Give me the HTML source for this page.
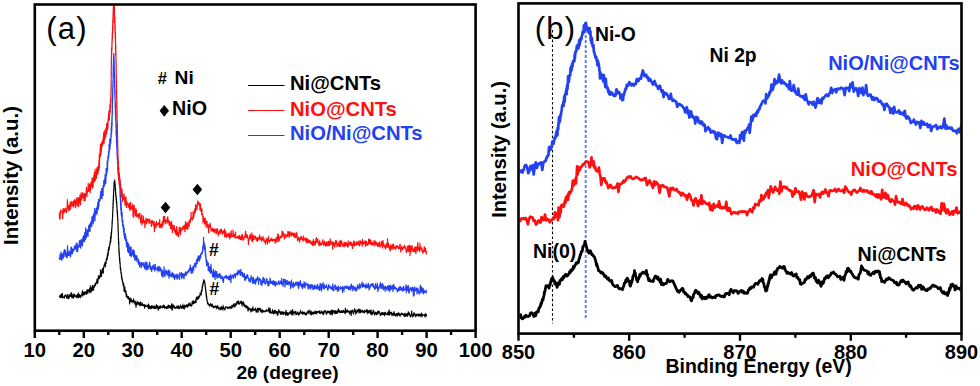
<!DOCTYPE html><html><head><meta charset="utf-8"><style>html,body{margin:0;padding:0;background:#fff;width:980px;height:386px;overflow:hidden}</style></head><body><svg width="980" height="386" viewBox="0 0 980 386" style="display:block" font-family="Liberation Sans, sans-serif"><path d="M552.5,30V323.5" stroke="#000" stroke-width="1.1" stroke-dasharray="2.6,2.2"/><path d="M585.7,25V318.6" stroke="#5b78f2" stroke-width="1.9" stroke-dasharray="3,2"/><defs><clipPath id="ca"><rect x="36" y="5" width="438" height="324"/></clipPath><clipPath id="cb"><rect x="519.5" y="4.5" width="441" height="328"/></clipPath></defs><g clip-path="url(#ca)"><path d="M59.3,296.0 59.7,297.3 60.1,294.9 60.5,296.1 60.8,298.2 61.1,296.8 61.4,293.7 61.7,297.9 62.1,293.6 62.4,293.6 62.7,297.0 63.0,296.4 63.3,297.0 63.7,297.2 64.0,297.4 64.3,298.5 64.7,295.9 65.0,296.3 65.4,295.8 65.7,294.9 66.1,295.2 66.4,297.0 66.7,296.6 67.0,298.7 67.3,296.4 67.6,295.2 67.9,294.1 68.2,297.9 68.5,299.0 68.8,297.2 69.1,297.6 69.5,295.5 69.8,295.0 70.1,295.7 70.4,294.1 70.7,297.0 71.0,293.4 71.3,292.3 71.7,296.5 72.0,298.1 72.3,295.3 72.7,296.5 73.0,293.5 73.3,298.7 73.7,295.3 74.0,297.2 74.4,293.9 74.7,295.5 75.1,295.4 75.4,297.1 75.7,296.1 76.1,295.9 76.4,295.9 76.7,297.0 77.1,295.6 77.5,296.7 77.9,294.3 78.3,293.5 78.6,298.1 79.0,294.9 79.3,294.0 79.7,296.6 80.0,297.1 80.4,295.0 80.8,296.8 81.1,296.3 81.5,294.4 81.8,294.3 82.2,291.8 82.5,291.3 82.7,295.8 83.0,295.5 83.3,293.7 83.6,294.8 83.9,291.3 84.2,294.1 84.5,295.1 84.8,293.0 85.1,293.4 85.4,291.8 85.7,294.2 86.0,291.2 86.3,293.1 86.6,294.6 86.9,290.2 87.2,290.4 87.5,292.2 87.8,293.6 88.1,289.1 88.4,291.7 88.7,290.3 89.0,291.4 89.3,292.0 89.6,288.4 89.9,291.3 90.1,290.8 90.4,285.4 90.7,292.8 91.0,291.9 91.3,290.8 91.5,289.3 91.8,287.2 92.1,287.3 92.3,291.2 92.6,285.0 92.8,290.4 93.0,288.5 93.2,288.3 93.4,289.3 93.6,289.6 93.8,285.6 94.0,286.3 94.2,288.0 94.3,285.4 94.5,286.2 94.7,286.8 94.9,284.2 95.1,284.3 95.3,286.0 95.4,283.6 95.6,285.6 95.8,282.9 96.0,283.8 96.1,282.9 96.3,283.1 96.5,281.7 96.7,282.8 96.8,282.4 97.0,278.9 97.2,281.7 97.3,281.3 97.5,281.2 97.7,283.9 97.8,280.8 98.0,282.1 98.1,279.2 98.3,276.3 98.4,278.9 98.5,275.4 98.7,278.0 98.8,279.1 98.9,277.2 99.1,276.5 99.2,278.3 99.3,277.5 99.5,278.2 99.6,278.8 99.7,275.4 99.9,277.3 100.0,277.2 100.1,276.3 100.3,274.6 100.4,273.5 100.5,269.5 100.7,273.9 100.8,274.7 100.9,271.3 101.1,274.2 101.2,272.1 101.3,277.0 101.5,273.1 101.6,275.8 101.7,273.0 101.9,271.2 102.0,273.0 102.1,269.2 102.3,269.0 102.4,270.2 102.5,269.8 102.6,273.0 102.8,269.7 102.9,269.7 103.0,268.2 103.1,268.1 103.3,273.8 103.4,268.6 103.5,267.6 103.6,267.3 103.7,268.6 103.9,266.8 104.0,265.4 104.1,265.0 104.2,265.5 104.3,264.7 104.4,265.9 104.6,265.3 104.7,263.7 104.8,264.6 104.9,263.0 105.0,262.1 105.1,265.2 105.2,263.2 105.3,264.3 105.4,266.1 105.5,267.2 105.6,263.9 105.7,264.3 105.8,262.6 105.9,263.6 106.0,260.8 106.1,263.9 106.2,261.7 106.3,259.0 106.4,259.5 106.5,259.5 106.6,259.3 106.7,257.8 106.7,260.8 106.8,259.6 106.9,259.6 107.0,257.1 107.1,256.7 107.2,258.8 107.3,259.4 107.4,256.5 107.4,253.3 107.5,254.9 107.6,254.6 107.7,253.1 107.8,254.4 107.9,256.5 107.9,252.4 108.0,256.1 108.0,253.6 108.1,255.3 108.2,252.1 108.2,249.7 108.3,249.0 108.4,252.1 108.4,251.6 108.5,251.0 108.6,252.7 108.6,251.1 108.7,249.8 108.7,247.0 108.8,250.1 108.9,249.3 108.9,247.8 109.0,249.0 109.1,247.7 109.1,250.1 109.2,248.3 109.3,246.1 109.3,249.0 109.4,247.8 109.4,247.6 109.5,246.8 109.6,246.2 109.6,244.8 109.7,246.6 109.8,243.2 109.8,243.8 109.9,243.8 109.9,244.3 110.0,245.0 110.0,243.0 110.1,243.4 110.1,242.8 110.2,240.8 110.2,243.5 110.3,242.7 110.3,242.2 110.4,240.2 110.4,241.2 110.5,238.1 110.5,241.4 110.6,240.7 110.6,240.3 110.7,235.9 110.7,242.7 110.8,239.8 110.8,238.6 110.8,240.1 110.9,236.2 110.9,239.3 111.0,237.5 111.0,238.2 111.0,235.9 111.1,238.7 111.1,233.9 111.2,232.8 111.2,234.1 111.2,232.0 111.3,235.0 111.3,237.4 111.3,234.7 111.4,232.5 111.4,234.0 111.5,232.4 111.5,234.6 111.5,231.2 111.5,232.2 111.6,232.9 111.6,229.9 111.6,232.4 111.7,230.3 111.7,231.2 111.7,230.5 111.8,229.2 111.8,231.1 111.8,227.3 111.8,229.2 111.9,227.7 111.9,228.2 111.9,228.7 111.9,228.4 112.0,227.0 112.0,227.7 112.0,222.4 112.0,227.1 112.0,225.9 112.1,225.2 112.1,225.2 112.1,224.9 112.1,222.5 112.1,223.6 112.2,223.8 112.2,224.3 112.2,224.2 112.2,220.5 112.2,223.1 112.2,223.5 112.3,221.0 112.3,220.4 112.3,219.6 112.3,219.0 112.3,218.5 112.3,220.0 112.4,219.8 112.4,219.6 112.4,221.6 112.4,218.5 112.4,218.9 112.4,219.7 112.4,218.0 112.5,218.2 112.5,216.4 112.5,217.8 112.5,217.0 112.5,217.0 112.5,215.8 112.6,215.0 112.6,214.6 112.6,215.3 112.6,215.5 112.6,213.6 112.6,213.3 112.6,217.9 112.7,214.0 112.7,215.1 112.7,214.1 112.7,214.1 112.7,212.8 112.7,212.6 112.7,214.5 112.8,209.6 112.8,212.5 112.8,210.3 112.8,210.6 112.8,209.9 112.8,209.0 112.8,212.3 112.9,206.5 112.9,210.7 112.9,206.8 112.9,210.4 112.9,210.3 112.9,209.2 112.9,206.3 112.9,207.8 113.0,206.2 113.0,205.8 113.0,205.1 113.0,207.3 113.0,205.9 113.0,206.0 113.0,203.1 113.1,208.2 113.1,203.2 113.1,200.8 113.1,201.5 113.1,202.0 113.1,203.6 113.1,202.3 113.2,203.1 113.2,199.5 113.2,205.6 113.2,203.0 113.2,200.2 113.2,200.1 113.3,200.8 113.3,199.7 113.3,201.7 113.3,200.3 113.3,199.9 113.3,199.4 113.4,194.6 113.4,200.7 113.4,199.3 113.4,199.1 113.4,194.8 113.4,196.5 113.5,196.5 113.5,197.8 113.5,196.2 113.5,197.7 113.5,195.0 113.5,198.7 113.5,195.0 113.6,195.9 113.6,193.8 113.6,195.1 113.6,195.7 113.6,190.5 113.6,193.9 113.6,193.5 113.7,193.9 113.7,191.6 113.7,191.7 113.7,194.4 113.7,189.5 113.7,189.7 113.7,191.4 113.7,191.2 113.8,191.4 113.8,188.9 113.8,191.0 113.8,188.7 113.8,190.1 113.8,189.4 113.8,189.0 113.9,188.4 113.9,187.3 113.9,188.6 113.9,185.6 113.9,186.0 113.9,187.8 113.9,186.0 114.0,185.7 114.0,185.5 114.0,185.7 114.0,183.2 114.0,184.5 114.1,184.3 114.1,184.3 114.1,183.0 114.1,182.1 114.2,182.6 114.2,183.0 114.2,181.6 114.3,182.6 114.4,181.0 114.6,183.1 114.7,181.4 114.7,179.5 114.8,184.7 114.8,184.3 114.9,185.6 114.9,185.3 115.0,181.4 115.0,182.6 115.0,185.6 115.0,184.9 115.1,187.7 115.1,184.6 115.1,184.8 115.2,184.0 115.2,185.7 115.2,185.3 115.2,186.2 115.3,187.0 115.3,187.8 115.3,188.2 115.3,191.0 115.4,189.4 115.4,190.5 115.4,188.6 115.4,189.8 115.5,192.0 115.5,190.7 115.5,190.7 115.5,188.9 115.6,188.2 115.6,194.1 115.6,194.2 115.6,191.9 115.7,194.1 115.7,192.4 115.7,194.3 115.7,195.6 115.8,191.9 115.8,195.9 115.8,193.6 115.8,197.3 115.9,195.6 115.9,194.5 115.9,195.2 116.0,196.1 116.0,198.2 116.0,195.4 116.1,196.9 116.1,196.3 116.1,195.3 116.1,200.1 116.2,198.5 116.2,197.8 116.2,196.4 116.2,200.6 116.3,197.9 116.3,198.8 116.3,201.0 116.4,202.5 116.4,200.4 116.4,203.0 116.4,198.7 116.5,200.2 116.5,200.6 116.5,200.9 116.6,200.2 116.6,202.8 116.6,201.8 116.6,202.7 116.7,202.5 116.7,204.6 116.7,202.4 116.7,203.7 116.8,205.6 116.8,205.5 116.8,207.0 116.8,201.9 116.9,207.8 116.9,205.1 116.9,204.9 116.9,204.8 117.0,206.4 117.0,208.4 117.0,210.1 117.0,208.5 117.1,209.4 117.1,211.1 117.1,209.7 117.1,208.8 117.2,213.1 117.2,211.3 117.2,213.7 117.2,211.0 117.2,211.2 117.3,209.8 117.3,211.9 117.3,212.6 117.3,211.5 117.3,210.0 117.4,211.5 117.4,212.9 117.4,213.5 117.4,216.3 117.5,214.6 117.5,214.5 117.5,214.9 117.5,211.6 117.5,216.7 117.5,215.0 117.6,214.6 117.6,214.8 117.6,214.0 117.6,217.8 117.6,215.2 117.7,218.8 117.7,218.7 117.7,220.6 117.7,219.0 117.7,219.4 117.7,217.3 117.8,220.5 117.8,220.6 117.8,220.5 117.8,220.7 117.8,219.9 117.8,219.6 117.9,218.8 117.9,221.0 117.9,220.7 117.9,221.6 117.9,221.8 117.9,223.2 117.9,222.3 117.9,224.9 118.0,224.2 118.0,223.4 118.0,225.6 118.0,227.8 118.0,223.5 118.0,227.0 118.0,226.9 118.0,225.5 118.1,223.6 118.1,225.0 118.1,227.8 118.1,228.7 118.1,228.1 118.1,229.8 118.1,224.6 118.1,226.5 118.2,228.7 118.2,230.3 118.2,229.1 118.2,230.0 118.2,228.3 118.2,231.5 118.2,231.6 118.2,233.1 118.2,229.7 118.3,230.7 118.3,232.9 118.3,234.4 118.3,236.5 118.3,234.4 118.3,234.7 118.3,235.5 118.3,234.2 118.3,232.2 118.3,235.0 118.4,234.3 118.4,233.9 118.4,233.8 118.4,233.7 118.4,236.0 118.4,233.3 118.4,239.0 118.4,236.4 118.4,237.5 118.5,241.3 118.5,238.7 118.5,238.0 118.5,238.9 118.5,239.4 118.5,238.8 118.5,240.0 118.5,243.1 118.5,238.7 118.6,239.0 118.6,239.2 118.6,238.6 118.6,242.5 118.6,239.0 118.6,240.5 118.6,241.4 118.6,239.1 118.6,244.0 118.7,241.0 118.7,242.3 118.7,245.5 118.7,244.3 118.7,241.7 118.7,242.9 118.7,245.5 118.7,243.4 118.8,242.1 118.8,245.9 118.8,244.4 118.8,248.2 118.8,247.0 118.8,248.7 118.8,246.5 118.9,245.1 118.9,247.2 118.9,249.0 118.9,246.8 118.9,249.3 118.9,251.4 118.9,252.6 119.0,252.8 119.0,252.2 119.0,251.9 119.0,249.7 119.0,249.1 119.0,248.1 119.1,253.8 119.1,253.5 119.1,251.7 119.1,255.0 119.1,253.9 119.1,252.5 119.2,250.5 119.2,255.0 119.2,251.6 119.2,254.4 119.2,252.4 119.3,255.2 119.3,254.1 119.3,257.9 119.3,255.6 119.3,256.6 119.4,255.1 119.4,254.6 119.4,257.3 119.4,258.2 119.5,258.9 119.5,256.8 119.5,257.9 119.5,257.5 119.6,260.7 119.6,260.5 119.6,260.2 119.6,260.5 119.7,259.4 119.7,260.9 119.7,262.4 119.7,259.5 119.8,257.5 119.8,259.6 119.8,261.4 119.9,262.5 119.9,263.3 119.9,263.5 119.9,263.8 120.0,261.6 120.0,264.2 120.0,263.8 120.1,263.4 120.1,264.7 120.1,264.2 120.2,264.1 120.2,265.7 120.2,268.4 120.3,266.3 120.3,266.5 120.3,266.7 120.4,270.1 120.4,267.6 120.5,267.9 120.5,267.3 120.5,269.0 120.6,269.3 120.6,269.5 120.6,267.5 120.7,269.1 120.7,271.1 120.8,269.3 120.8,272.2 120.9,272.1 120.9,270.4 120.9,272.5 121.0,272.7 121.0,273.0 121.1,272.6 121.1,271.5 121.2,272.8 121.2,274.0 121.3,274.2 121.3,274.3 121.3,274.0 121.4,274.2 121.4,275.7 121.5,278.0 121.5,275.3 121.6,274.4 121.6,273.7 121.7,276.9 121.8,276.9 121.8,276.4 121.9,279.9 121.9,278.2 122.0,278.3 122.0,280.1 122.1,277.9 122.1,279.4 122.2,277.8 122.3,281.9 122.3,281.0 122.4,279.9 122.4,279.9 122.5,282.5 122.5,282.1 122.6,281.4 122.7,282.0 122.8,282.9 122.8,281.7 122.9,282.5 123.0,285.1 123.0,284.8 123.1,283.1 123.2,285.7 123.2,286.5 123.3,282.4 123.4,285.0 123.5,285.7 123.5,285.7 123.6,285.1 123.7,284.2 123.8,283.4 123.8,284.5 123.9,285.6 124.0,290.9 124.1,289.8 124.2,291.6 124.3,289.8 124.3,291.1 124.4,287.8 124.5,289.6 124.6,289.2 124.7,292.0 124.8,287.6 124.9,286.5 125.0,290.2 125.1,292.6 125.2,290.5 125.3,289.8 125.4,292.0 125.5,292.4 125.6,290.2 125.7,291.4 125.9,294.5 126.0,291.0 126.1,293.3 126.2,297.0 126.3,295.5 126.5,293.9 126.6,295.2 126.8,294.3 126.9,295.8 127.1,297.9 127.3,296.5 127.4,297.5 127.6,296.1 127.7,297.2 127.9,297.5 128.1,299.5 128.3,296.1 128.4,297.8 128.6,298.6 128.8,299.5 129.1,297.5 129.3,298.6 129.6,304.4 129.8,301.1 130.1,298.1 130.4,298.2 130.6,297.7 130.9,302.1 131.2,299.0 131.5,300.2 131.8,301.1 132.1,302.0 132.4,300.9 132.7,301.2 133.0,301.2 133.3,301.9 133.6,298.6 133.9,303.2 134.2,301.2 134.5,301.7 134.8,302.6 135.1,304.7 135.4,302.2 135.7,301.7 136.0,307.6 136.2,304.7 136.5,303.3 136.9,304.2 137.2,303.5 137.6,301.3 137.9,303.9 138.3,304.2 138.6,302.9 139.0,303.5 139.3,303.4 139.6,305.6 139.9,302.1 140.3,305.6 140.6,301.6 140.9,305.5 141.2,305.2 141.5,304.5 141.9,305.0 142.2,302.6 142.5,304.9 142.9,305.4 143.4,304.8 143.8,306.3 144.2,304.3 144.6,307.6 145.0,306.8 145.3,304.7 145.7,305.8 146.2,306.3 146.6,306.5 147.1,305.3 147.5,305.6 147.8,306.6 148.1,307.3 148.5,303.5 148.9,308.4 149.3,308.4 149.6,306.7 150.0,307.8 150.3,306.1 150.7,307.3 151.0,308.1 151.3,308.4 151.6,305.4 151.9,306.8 152.2,306.6 152.5,308.2 152.9,306.8 153.2,307.8 153.5,307.0 153.9,307.8 154.2,308.6 154.5,305.5 154.9,308.3 155.2,308.5 155.5,306.9 155.8,307.1 156.1,308.6 156.4,304.3 156.7,306.5 157.0,308.8 157.3,305.0 157.7,308.2 158.0,306.9 158.3,310.8 158.6,307.7 159.0,305.9 159.3,308.1 159.7,307.5 160.0,308.9 160.3,305.7 160.7,307.8 161.0,306.2 161.3,306.6 161.7,307.0 162.0,306.9 162.4,307.5 162.7,306.3 163.0,306.7 163.4,307.9 163.7,305.3 164.1,305.7 164.4,307.3 164.7,306.7 165.0,308.4 165.3,307.4 165.6,307.3 165.9,307.0 166.2,307.9 166.6,306.5 166.9,308.9 167.2,306.6 167.6,306.7 167.9,306.1 168.2,307.9 168.6,307.9 168.9,305.5 169.2,305.6 169.5,307.9 169.8,306.4 170.1,305.9 170.5,307.6 170.8,307.0 171.1,307.6 171.4,308.8 171.7,303.4 172.0,309.7 172.3,310.5 172.6,306.6 172.9,304.9 173.3,305.0 173.6,307.1 173.9,306.7 174.2,306.2 174.5,307.1 174.8,308.3 175.1,308.2 175.4,306.9 175.7,308.5 176.0,307.5 176.3,307.5 176.7,306.8 177.0,308.0 177.3,308.0 177.6,305.6 178.0,307.6 178.3,308.9 178.6,306.0 179.0,306.1 179.3,307.3 179.7,308.5 180.0,308.2 180.4,307.1 180.7,305.6 181.1,306.5 181.4,306.4 181.8,309.0 182.1,307.8 182.5,305.9 182.9,305.0 183.2,307.6 183.6,308.8 183.9,306.3 184.3,305.6 184.7,308.2 185.1,307.3 185.5,305.3 185.8,306.6 186.1,305.1 186.5,306.9 186.9,304.0 187.3,307.7 187.7,305.7 188.0,307.1 188.4,304.6 188.8,303.7 189.2,305.9 189.4,304.2 189.7,304.7 190.0,305.8 190.3,303.7 190.6,304.4 190.9,305.1 191.2,306.6 191.5,305.5 191.9,305.5 192.2,301.2 192.5,303.7 192.8,303.2 193.1,300.4 193.4,302.9 193.7,304.1 194.0,302.4 194.3,301.3 194.6,302.6 194.9,303.4 195.2,300.9 195.5,300.4 195.7,301.8 196.0,302.9 196.3,298.4 196.5,297.4 196.8,297.2 197.0,300.0 197.2,298.8 197.4,299.9 197.6,297.7 197.8,297.9 198.0,296.5 198.2,297.7 198.5,298.2 198.8,296.8 199.0,297.1 199.2,295.9 199.4,295.9 199.5,297.4 199.7,296.3 199.8,295.6 200.0,295.3 200.1,293.6 200.3,293.9 200.4,293.6 200.6,293.8 200.7,295.2 200.9,293.3 201.0,294.1 201.1,294.3 201.2,293.1 201.3,293.3 201.4,293.6 201.4,291.1 201.5,291.2 201.6,291.2 201.7,291.0 201.7,290.1 201.8,290.7 201.9,289.7 201.9,289.7 202.0,289.1 202.1,289.5 202.1,291.5 202.2,285.7 202.2,286.0 202.3,287.5 202.4,288.3 202.4,286.0 202.5,288.7 202.5,286.2 202.6,286.6 202.6,286.5 202.7,285.1 202.8,283.8 202.8,284.4 202.9,285.8 203.0,285.5 203.0,284.0 203.1,282.4 203.2,284.0 203.3,284.2 203.3,282.7 203.4,281.6 203.5,282.0 203.6,280.9 203.8,279.2 203.9,283.0 204.3,280.2 204.4,281.3 204.5,281.3 204.6,281.0 204.7,281.6 204.8,283.1 204.8,283.2 204.9,282.7 204.9,283.2 205.0,285.7 205.0,283.1 205.1,283.9 205.1,285.7 205.2,287.0 205.2,286.4 205.2,286.6 205.3,285.8 205.3,286.7 205.4,287.9 205.4,288.2 205.5,288.9 205.5,286.5 205.5,290.8 205.6,290.6 205.6,289.0 205.6,287.8 205.7,290.9 205.7,291.0 205.7,289.9 205.8,290.0 205.8,292.0 205.8,291.6 205.9,290.1 205.9,290.8 205.9,293.0 206.0,291.0 206.0,293.6 206.0,293.7 206.1,293.8 206.1,291.9 206.1,293.2 206.2,293.4 206.2,292.5 206.2,296.4 206.3,296.2 206.3,294.9 206.4,293.6 206.4,297.9 206.5,294.2 206.5,296.2 206.5,294.8 206.6,296.8 206.6,298.3 206.7,295.9 206.7,299.9 206.8,297.5 206.8,299.5 206.8,300.5 206.9,299.7 206.9,299.2 207.0,299.3 207.0,299.5 207.1,300.2 207.2,300.9 207.3,300.8 207.3,300.7 207.4,301.8 207.5,303.6 207.6,303.9 207.7,302.0 207.9,303.6 208.0,302.3 208.2,304.9 208.3,304.0 208.5,304.0 208.8,304.9 209.0,305.3 209.3,305.9 209.6,304.6 210.1,304.9 210.7,303.2 211.0,305.4 211.4,305.1 211.7,307.0 212.0,305.7 212.3,304.7 212.6,305.5 213.0,307.5 213.3,305.9 213.6,308.2 213.9,306.2 214.3,307.3 214.6,307.3 215.0,306.5 215.3,306.9 215.7,306.0 216.1,306.7 216.4,308.2 216.7,307.7 217.0,306.6 217.3,305.9 217.7,305.9 218.0,308.8 218.4,307.1 218.8,307.2 219.1,309.1 219.5,308.4 219.8,308.8 220.1,309.0 220.4,308.2 220.7,310.1 221.1,308.0 221.4,307.2 221.8,308.5 222.1,307.2 222.5,308.6 222.8,309.3 223.2,306.0 223.6,306.9 223.9,308.8 224.3,309.2 224.7,308.8 225.0,310.3 225.4,307.1 225.8,306.8 226.1,306.9 226.5,307.6 226.9,307.7 227.2,306.6 227.6,308.4 227.9,308.4 228.3,307.9 228.6,307.6 229.0,308.2 229.3,306.8 229.7,307.2 230.0,307.2 230.4,307.9 230.7,306.8 230.9,307.0 231.2,308.2 231.5,307.7 231.8,306.0 232.1,306.3 232.3,304.9 232.6,306.1 232.9,307.1 233.2,306.4 233.4,305.2 233.7,303.6 234.0,305.2 234.3,304.5 234.6,306.3 234.8,307.3 235.1,305.8 235.4,305.8 235.7,304.0 235.9,304.1 236.2,303.2 236.5,305.4 236.8,301.8 237.0,301.7 237.3,303.7 237.7,302.5 238.0,303.1 238.3,301.1 238.7,301.3 239.0,304.0 239.3,304.1 239.7,303.0 240.0,302.7 240.3,302.0 240.6,302.6 240.9,303.5 241.2,300.7 241.5,302.6 241.8,304.6 242.1,305.4 242.3,304.2 242.6,302.3 242.9,303.9 243.1,301.1 243.4,303.9 243.6,304.5 243.9,303.5 244.2,303.9 244.4,307.0 244.7,305.1 244.9,307.0 245.1,305.5 245.3,305.9 245.6,306.9 245.8,307.3 246.1,305.1 246.3,307.9 246.6,306.8 246.8,307.5 247.1,308.4 247.4,306.5 247.7,306.6 248.0,311.4 248.3,309.7 248.6,307.9 248.9,308.2 249.1,309.1 249.4,308.5 249.7,308.4 250.0,308.8 250.3,309.2 250.7,311.2 251.0,310.3 251.3,309.1 251.6,309.5 252.0,311.8 252.3,309.1 252.6,308.0 252.9,307.3 253.2,309.7 253.5,310.3 253.8,310.5 254.1,309.0 254.4,310.6 254.7,309.5 255.0,309.7 255.4,308.6 255.7,309.4 256.0,311.2 256.3,312.7 256.6,309.5 256.9,311.4 257.2,309.9 257.5,307.9 257.8,311.6 258.1,312.7 258.4,308.0 258.8,310.0 259.1,308.8 259.4,309.2 259.7,310.4 260.0,307.7 260.4,311.6 260.7,308.6 261.0,311.3 261.3,312.1 261.6,311.5 261.9,310.5 262.2,310.2 262.5,310.0 262.8,312.1 263.2,311.4 263.5,310.3 263.8,312.2 264.1,310.9 264.4,311.1 264.7,311.5 265.0,311.1 265.3,310.9 265.7,311.6 266.0,311.2 266.3,310.7 266.6,309.8 267.0,310.9 267.3,310.5 267.6,310.7 267.9,310.9 268.2,309.5 268.5,311.8 268.8,308.3 269.1,308.7 269.4,312.7 269.7,312.6 270.0,308.6 270.3,308.9 270.6,313.4 270.9,312.6 271.2,312.6 271.5,311.5 271.8,313.2 272.1,313.2 272.5,310.1 272.8,310.7 273.1,313.2 273.4,312.4 273.7,314.3 274.0,310.8 274.3,313.8 274.6,310.0 274.9,313.2 275.2,309.8 275.5,313.4 275.8,312.1 276.1,312.9 276.4,312.1 276.7,312.8 277.0,311.0 277.4,315.7 277.7,313.4 278.0,314.1 278.3,312.2 278.6,310.1 278.9,309.9 279.2,312.5 279.5,311.3 279.8,311.6 280.1,313.0 280.4,314.7 280.7,312.9 281.0,311.9 281.3,312.4 281.6,312.7 281.9,315.0 282.2,312.7 282.5,313.1 282.8,313.0 283.1,311.2 283.4,314.8 283.7,312.9 284.0,312.6 284.3,312.5 284.6,312.4 285.0,313.7 285.3,312.9 285.6,315.6 285.9,309.7 286.2,313.9 286.5,314.3 286.8,311.9 287.1,313.8 287.4,313.4 287.7,315.7 288.0,312.7 288.3,313.5 288.6,314.2 289.0,313.2 289.3,312.7 289.6,313.0 289.9,311.5 290.2,312.5 290.5,314.2 290.8,311.6 291.1,310.2 291.4,314.4 291.7,312.4 292.0,315.5 292.3,312.5 292.6,309.4 292.9,312.4 293.2,313.8 293.6,312.5 293.9,311.8 294.2,311.8 294.5,312.4 294.8,312.2 295.1,314.2 295.4,313.6 295.7,310.7 296.0,313.9 296.3,312.9 296.6,314.8 296.9,313.9 297.2,313.1 297.5,312.1 297.8,312.1 298.2,314.2 298.5,314.8 298.8,313.8 299.1,313.5 299.4,314.0 299.7,312.6 300.0,312.4 300.3,311.5 300.6,310.9 300.9,313.8 301.3,312.1 301.6,312.2 301.9,313.7 302.2,312.4 302.5,314.6 302.8,312.4 303.1,313.1 303.5,311.7 303.8,314.2 304.1,313.0 304.4,314.0 304.7,313.7 305.0,313.0 305.3,313.7 305.7,314.5 306.0,313.0 306.3,315.1 306.6,313.4 306.9,312.3 307.2,312.0 307.5,312.1 307.8,311.6 308.1,314.2 308.4,311.6 308.8,311.1 309.1,310.5 309.4,311.5 309.7,312.5 310.0,311.7 310.3,314.5 310.6,313.6 310.9,310.3 311.2,315.2 311.5,312.3 311.8,311.5 312.1,313.8 312.5,313.1 312.8,313.5 313.1,312.7 313.4,313.5 313.7,312.2 314.0,312.1 314.3,312.7 314.6,313.9 314.9,312.7 315.2,310.5 315.5,313.2 315.8,313.5 316.1,311.4 316.4,313.3 316.7,313.4 317.0,312.2 317.3,313.2 317.6,311.1 317.9,312.1 318.2,312.0 318.5,311.6 318.8,312.0 319.1,311.5 319.4,311.1 319.7,313.0 320.0,312.8 320.3,314.0 320.6,312.2 320.9,311.7 321.2,310.6 321.5,312.8 321.8,312.7 322.1,312.3 322.4,313.1 322.7,312.4 323.0,313.0 323.3,315.2 323.6,312.1 323.9,311.4 324.2,312.6 324.5,311.7 324.8,310.7 325.2,310.9 325.5,311.7 325.8,311.3 326.1,313.7 326.4,314.1 326.7,313.8 327.0,313.2 327.3,311.6 327.6,311.3 327.9,312.3 328.2,312.4 328.5,312.5 328.8,311.2 329.1,311.4 329.4,313.3 329.7,311.0 330.0,313.9 330.3,314.7 330.6,311.8 330.9,310.9 331.2,310.4 331.5,312.3 331.8,314.4 332.2,315.3 332.5,310.1 332.8,311.6 333.1,312.8 333.4,312.3 333.7,311.6 334.0,310.6 334.3,310.9 334.6,311.4 334.9,314.1 335.3,312.0 335.6,311.6 335.9,310.2 336.2,314.0 336.5,311.0 336.8,312.7 337.1,312.5 337.4,313.5 337.7,311.1 338.1,311.4 338.4,308.6 338.7,310.9 339.0,309.7 339.3,312.7 339.6,311.4 339.9,310.4 340.2,313.2 340.5,311.6 340.8,311.5 341.1,312.0 341.4,311.3 341.7,312.9 342.0,311.1 342.3,311.3 342.6,311.1 342.9,312.8 343.2,311.2 343.5,310.0 343.8,311.7 344.2,311.6 344.5,311.8 344.8,313.2 345.1,313.5 345.4,307.9 345.7,312.5 346.0,312.2 346.3,311.5 346.6,312.1 346.9,312.2 347.2,309.3 347.5,311.9 347.8,311.7 348.1,311.1 348.4,311.7 348.7,311.6 349.0,312.1 349.3,313.2 349.7,311.6 350.0,312.2 350.3,312.9 350.6,312.7 350.9,310.3 351.2,315.9 351.5,311.2 351.8,310.6 352.1,310.5 352.4,311.2 352.7,310.6 353.0,312.6 353.3,313.6 353.6,312.5 353.9,312.7 354.2,311.0 354.5,308.9 354.8,309.1 355.1,311.9 355.5,310.2 355.8,313.8 356.1,313.3 356.4,313.0 356.7,311.5 357.0,310.3 357.3,311.1 357.6,312.4 357.9,310.7 358.2,309.9 358.5,309.9 358.8,308.5 359.1,312.4 359.4,311.9 359.7,309.2 360.0,311.9 360.3,313.3 360.6,310.3 360.9,310.8 361.2,311.7 361.5,311.6 361.8,311.9 362.1,310.7 362.4,309.9 362.7,312.3 363.0,312.3 363.4,311.5 363.7,311.9 364.0,311.5 364.3,313.5 364.6,310.1 364.9,312.0 365.2,312.0 365.5,311.2 365.8,311.2 366.1,311.3 366.4,309.3 366.7,311.9 367.0,312.5 367.3,312.3 367.6,309.6 367.9,313.4 368.2,313.0 368.5,312.3 368.8,310.5 369.2,313.0 369.5,310.1 369.8,311.6 370.2,309.9 370.5,314.4 370.8,311.5 371.1,310.8 371.4,313.7 371.8,313.1 372.1,315.1 372.4,312.6 372.7,313.7 373.0,311.9 373.3,309.9 373.6,311.0 373.9,312.9 374.2,312.6 374.6,315.3 374.9,314.4 375.2,314.1 375.5,312.9 375.8,313.8 376.1,312.0 376.4,313.8 376.8,312.7 377.1,312.7 377.4,314.6 377.7,310.7 378.1,311.7 378.4,313.0 378.7,312.5 379.0,311.5 379.4,311.6 379.7,312.8 380.0,314.3 380.3,315.5 380.6,315.2 380.9,313.0 381.2,313.9 381.5,313.3 381.8,315.0 382.1,313.2 382.4,313.9 382.8,312.0 383.1,315.0 383.4,313.5 383.7,313.8 384.0,313.2 384.3,315.2 384.6,315.5 384.9,312.2 385.2,314.8 385.5,311.9 385.8,314.2 386.1,314.4 386.4,314.7 386.7,314.6 387.0,314.5 387.3,312.9 387.6,315.1 387.9,312.5 388.2,311.7 388.5,315.3 388.8,312.9 389.1,309.5 389.4,312.7 389.7,314.8 390.0,314.5 390.3,311.9 390.6,314.1 390.9,312.7 391.2,314.0 391.5,311.9 391.8,315.3 392.1,315.4 392.4,314.0 392.7,314.5 393.0,314.0 393.4,314.9 393.7,312.8 394.0,311.4 394.3,314.0 394.6,313.8 394.9,315.8 395.2,314.2 395.5,315.4 395.8,314.7 396.1,316.3 396.4,314.8 396.7,313.5 397.0,313.5 397.3,314.7 397.6,316.3 397.9,313.3 398.2,313.0 398.5,314.0 398.8,314.5 399.1,313.4 399.4,313.8 399.7,314.7 400.0,316.7 400.3,315.4 400.6,314.2 401.0,313.8 401.3,314.5 401.6,314.1 401.9,313.2 402.2,313.7 402.5,315.0 402.8,313.3 403.1,314.4 403.4,314.8 403.7,315.4 404.0,316.4 404.3,314.2 404.6,314.2 404.9,312.8 405.2,316.9 405.5,314.8 405.8,314.5 406.1,315.7 406.4,315.6 406.8,314.6 407.1,313.1 407.4,316.6 407.7,315.1 408.0,315.0 408.3,311.2 408.6,315.3 408.9,312.6 409.2,315.0 409.5,313.5 409.8,314.2 410.2,317.2 410.5,315.1 410.8,316.0 411.1,314.6 411.4,315.6 411.7,310.5 412.0,314.5 412.3,314.8 412.6,316.5 413.0,315.9 413.3,316.8 413.6,313.7 413.9,313.0 414.2,312.9 414.5,314.5 414.8,315.3 415.1,315.3 415.4,316.1 415.8,314.6 416.1,313.7 416.4,316.2 416.7,315.4 417.0,314.8 417.3,314.2 417.6,314.4 417.9,315.1 418.2,315.8 418.5,315.3 418.8,313.5 419.1,316.3 419.5,315.0 419.8,314.7 420.1,315.2 420.4,314.8 420.7,315.8 421.0,314.8 421.3,313.5 421.6,313.2 421.9,317.1 422.2,315.4 422.5,315.0 422.8,314.4 423.1,314.6 423.5,315.1 423.8,315.3 424.1,315.2 424.4,315.8 424.7,314.0 425.0,315.4 425.3,314.8 425.7,313.4 426.0,316.4 426.3,315.8 426.6,314.1" fill="none" stroke="#000" stroke-width="1.1" stroke-linejoin="miter"/><path d="M59.3,257.8 59.7,259.8 60.0,254.1 60.3,255.8 60.6,259.7 61.0,251.7 61.4,254.5 61.7,260.6 62.1,258.6 62.5,255.0 62.8,255.7 63.1,253.4 63.4,258.6 63.6,253.4 63.9,251.9 64.2,250.4 64.6,249.3 65.0,257.0 65.4,250.1 65.8,255.7 66.1,252.5 66.4,255.9 66.6,257.9 66.9,253.1 67.2,258.3 67.5,245.3 67.8,250.3 68.1,256.0 68.4,252.9 68.7,252.5 69.0,251.9 69.2,256.1 69.5,251.7 69.8,253.0 70.1,252.2 70.4,252.7 70.6,257.5 70.9,248.1 71.2,248.5 71.4,248.1 71.7,254.5 72.1,247.7 72.4,254.3 72.8,249.0 73.1,252.3 73.4,249.1 73.7,250.9 74.1,249.1 74.4,246.0 74.7,246.0 75.0,249.7 75.3,248.9 75.6,247.7 76.0,244.3 76.3,243.3 76.5,245.8 76.8,251.9 77.0,242.5 77.2,246.7 77.5,249.5 77.7,252.3 78.0,245.8 78.3,245.1 78.5,247.5 78.8,247.1 79.1,246.6 79.3,241.1 79.6,240.9 79.9,245.5 80.1,240.3 80.4,247.4 80.7,247.9 81.0,241.8 81.2,239.2 81.5,240.9 81.8,245.8 82.0,242.4 82.3,239.5 82.5,246.4 82.7,237.2 82.9,242.2 83.1,241.0 83.3,241.5 83.5,235.1 83.7,240.4 83.9,240.5 84.0,238.3 84.2,241.3 84.4,242.1 84.6,241.3 84.8,232.1 84.9,238.9 85.0,239.8 85.2,238.5 85.3,234.9 85.5,239.9 85.6,227.4 85.8,228.7 85.9,236.4 86.0,237.2 86.2,238.5 86.3,237.5 86.5,235.6 86.6,233.4 86.7,236.6 86.9,235.7 87.0,233.1 87.1,230.6 87.3,229.8 87.4,229.4 87.5,232.6 87.7,231.9 87.8,231.5 87.9,230.6 88.1,236.7 88.2,229.7 88.3,231.0 88.4,230.4 88.6,225.2 88.7,232.0 88.8,231.3 88.9,227.6 89.0,230.0 89.2,229.4 89.3,227.8 89.4,228.7 89.5,228.1 89.6,223.7 89.7,228.9 89.8,230.5 89.9,226.2 90.1,232.1 90.2,226.3 90.3,225.8 90.4,226.1 90.5,225.7 90.6,221.9 90.7,226.3 90.8,225.0 90.9,226.1 91.0,226.7 91.1,226.7 91.2,225.7 91.4,224.1 91.5,220.1 91.6,223.5 91.7,226.9 91.9,216.4 92.0,220.8 92.1,221.8 92.2,223.3 92.4,220.9 92.5,222.4 92.6,217.8 92.7,221.1 92.9,215.4 93.0,219.2 93.1,222.9 93.3,224.4 93.4,213.7 93.5,220.8 93.6,215.2 93.8,217.1 93.9,219.1 94.0,216.1 94.2,215.3 94.3,211.8 94.4,219.1 94.6,216.0 94.7,208.0 94.8,211.5 94.9,221.6 95.1,218.0 95.2,213.4 95.4,213.7 95.6,210.6 95.7,210.2 95.9,212.7 96.1,213.3 96.2,211.0 96.3,208.6 96.4,208.7 96.5,209.4 96.7,214.0 96.8,208.5 96.9,215.2 97.0,210.6 97.1,206.8 97.2,208.4 97.3,212.6 97.4,204.6 97.5,205.8 97.6,207.1 97.7,206.5 97.8,202.1 97.9,202.9 98.0,206.2 98.1,206.3 98.2,208.1 98.3,207.1 98.4,209.8 98.5,198.9 98.6,206.6 98.7,204.4 98.8,203.1 98.8,206.7 98.9,204.8 99.0,203.8 99.1,199.9 99.2,199.6 99.3,202.1 99.4,199.5 99.5,201.9 99.6,199.9 99.6,201.0 99.7,201.4 99.8,199.5 99.9,200.5 100.0,196.9 100.1,200.6 100.2,200.8 100.4,193.7 100.5,197.1 100.6,196.6 100.7,191.0 100.8,196.6 100.9,194.5 101.0,193.6 101.1,197.4 101.3,198.7 101.4,197.2 101.5,197.4 101.6,193.9 101.7,187.9 101.8,195.1 101.9,196.3 102.1,199.3 102.1,191.2 102.2,195.9 102.3,195.4 102.4,192.0 102.5,188.9 102.6,194.6 102.7,192.9 102.8,190.3 102.9,189.2 103.0,189.5 103.0,185.5 103.1,196.0 103.2,186.7 103.3,185.4 103.4,188.0 103.4,188.5 103.5,187.8 103.6,186.8 103.7,185.7 103.7,186.1 103.8,180.1 103.9,186.1 104.0,184.2 104.0,184.5 104.1,187.1 104.2,184.9 104.3,182.7 104.3,183.7 104.4,184.2 104.5,183.7 104.6,181.1 104.6,185.4 104.7,178.8 104.8,184.1 104.8,178.1 104.9,184.7 105.0,182.8 105.0,179.2 105.1,174.1 105.2,180.4 105.2,175.3 105.3,180.6 105.4,180.2 105.4,177.0 105.5,177.5 105.5,182.3 105.6,174.6 105.7,176.7 105.7,180.2 105.8,178.9 105.8,183.8 105.9,180.9 106.0,173.9 106.0,179.6 106.1,168.1 106.1,176.8 106.2,173.7 106.2,176.1 106.3,173.7 106.3,175.8 106.4,172.0 106.4,175.2 106.5,172.7 106.5,175.1 106.6,169.5 106.6,168.3 106.7,173.7 106.7,171.6 106.7,172.7 106.8,172.2 106.8,170.9 106.9,170.1 106.9,170.7 106.9,169.1 107.0,173.0 107.0,172.5 107.1,166.9 107.1,171.5 107.1,164.8 107.2,160.4 107.2,162.2 107.2,167.3 107.3,167.5 107.3,168.0 107.3,170.2 107.4,169.2 107.4,163.0 107.4,165.3 107.5,165.3 107.5,166.2 107.5,167.1 107.6,168.7 107.6,170.7 107.6,167.1 107.7,163.6 107.7,165.2 107.7,162.3 107.8,162.6 107.8,160.7 107.8,161.5 107.9,160.6 107.9,157.0 107.9,159.4 107.9,156.5 108.0,159.2 108.0,159.3 108.0,159.2 108.1,158.4 108.1,158.9 108.1,155.8 108.2,160.7 108.2,155.6 108.2,159.9 108.3,160.5 108.3,157.7 108.3,157.4 108.4,159.1 108.4,151.7 108.4,152.6 108.5,155.1 108.5,151.0 108.6,154.5 108.6,157.6 108.6,155.6 108.7,154.9 108.7,156.0 108.7,156.1 108.8,150.9 108.8,157.2 108.9,154.3 108.9,154.9 108.9,153.2 109.0,153.5 109.0,150.2 109.0,154.3 109.1,143.8 109.1,153.4 109.2,148.4 109.2,150.3 109.2,150.2 109.3,150.3 109.3,146.9 109.4,150.2 109.4,147.4 109.4,145.5 109.5,147.5 109.5,147.3 109.5,144.7 109.6,150.0 109.6,144.4 109.7,147.2 109.7,145.3 109.7,138.8 109.8,148.3 109.8,141.0 109.9,141.1 109.9,150.1 109.9,144.7 110.0,145.1 110.0,145.9 110.1,143.5 110.1,138.9 110.2,146.9 110.2,145.7 110.2,140.0 110.3,138.5 110.3,143.6 110.4,138.8 110.4,142.4 110.4,137.9 110.5,139.2 110.5,139.3 110.6,142.7 110.6,140.3 110.6,140.3 110.7,143.5 110.7,143.0 110.7,139.7 110.8,140.0 110.8,143.3 110.8,140.8 110.9,141.0 110.9,139.1 110.9,134.2 111.0,135.2 111.0,134.4 111.0,133.1 111.1,135.2 111.1,136.5 111.1,137.7 111.2,137.2 111.2,127.7 111.2,133.8 111.3,133.4 111.3,128.2 111.3,127.3 111.3,127.1 111.4,131.4 111.4,133.4 111.4,126.0 111.5,129.9 111.5,132.0 111.5,132.8 111.5,127.1 111.5,122.5 111.6,128.0 111.6,126.4 111.6,126.3 111.6,130.3 111.7,130.3 111.7,131.9 111.7,127.6 111.7,132.8 111.7,126.0 111.7,123.5 111.8,127.3 111.8,122.5 111.8,130.3 111.8,127.6 111.8,124.4 111.8,120.2 111.9,117.7 111.9,126.0 111.9,124.7 111.9,123.9 111.9,118.0 111.9,123.5 111.9,120.9 111.9,120.3 112.0,121.9 112.0,124.6 112.0,126.2 112.0,116.8 112.0,115.1 112.0,117.2 112.0,120.9 112.0,116.7 112.1,121.9 112.1,121.3 112.1,125.7 112.1,120.3 112.1,120.0 112.1,119.9 112.1,117.0 112.1,115.7 112.1,122.5 112.1,111.0 112.2,117.5 112.2,116.3 112.2,118.7 112.2,113.4 112.2,115.4 112.2,112.1 112.2,114.5 112.2,118.7 112.2,114.5 112.2,113.3 112.2,113.4 112.2,112.0 112.3,113.7 112.3,111.1 112.3,110.8 112.3,111.8 112.3,107.1 112.3,110.7 112.3,108.5 112.3,109.4 112.3,114.4 112.3,105.9 112.3,107.5 112.3,107.8 112.4,106.8 112.4,109.9 112.4,113.0 112.4,111.8 112.4,104.9 112.4,109.6 112.4,104.8 112.4,108.6 112.4,102.1 112.4,108.7 112.4,98.5 112.4,105.3 112.4,103.3 112.5,102.4 112.5,102.4 112.5,107.5 112.5,101.3 112.5,103.6 112.5,99.9 112.5,98.1 112.5,101.4 112.5,102.7 112.5,100.0 112.5,98.9 112.5,99.4 112.5,106.0 112.5,97.3 112.6,103.1 112.6,91.8 112.6,95.2 112.6,99.0 112.6,99.7 112.6,102.0 112.6,96.6 112.6,101.1 112.6,97.7 112.6,99.6 112.6,91.3 112.6,93.0 112.6,95.4 112.7,94.6 112.7,93.8 112.7,91.1 112.7,99.2 112.7,95.1 112.7,95.3 112.7,95.4 112.7,96.1 112.7,87.6 112.7,94.6 112.7,92.7 112.7,92.0 112.8,92.6 112.8,86.3 112.8,90.4 112.8,91.0 112.8,98.5 112.8,90.4 112.8,89.7 112.8,94.5 112.8,93.5 112.8,91.3 112.8,84.8 112.8,89.8 112.8,89.3 112.9,87.3 112.9,84.7 112.9,85.5 112.9,86.6 112.9,81.4 112.9,87.1 112.9,86.2 112.9,86.7 112.9,88.0 112.9,84.9 112.9,87.8 112.9,83.2 113.0,80.2 113.0,81.5 113.0,82.9 113.0,84.9 113.0,80.7 113.0,83.1 113.0,83.1 113.0,83.0 113.0,81.0 113.0,82.7 113.0,84.8 113.0,79.0 113.0,86.6 113.1,82.0 113.1,82.2 113.1,78.2 113.1,73.4 113.1,78.4 113.1,79.3 113.1,75.7 113.1,81.3 113.1,76.2 113.1,81.9 113.1,75.0 113.1,77.4 113.1,76.2 113.1,77.3 113.2,75.9 113.2,76.9 113.2,73.7 113.2,78.2 113.2,68.4 113.2,71.8 113.2,75.0 113.2,68.3 113.2,74.5 113.2,77.2 113.2,64.7 113.2,69.2 113.2,72.4 113.3,72.1 113.3,73.6 113.3,71.7 113.3,68.2 113.3,71.3 113.3,72.5 113.3,67.3 113.3,69.8 113.3,68.6 113.3,67.0 113.3,64.5 113.3,67.1 113.3,68.2 113.4,71.3 113.4,60.2 113.4,64.3 113.4,69.3 113.4,62.8 113.4,67.5 113.4,64.0 113.4,70.1 113.4,64.2 113.4,60.3 113.4,63.0 113.5,69.7 113.5,65.8 113.5,61.3 113.5,64.9 113.5,62.5 113.5,67.3 113.5,59.6 113.5,64.1 113.5,59.7 113.6,60.2 113.6,61.9 113.6,57.6 113.6,64.9 113.6,60.8 113.6,55.2 113.7,59.8 113.7,59.5 113.7,55.5 113.8,56.6 113.8,56.6 113.8,53.1 113.9,59.4 113.9,53.3 113.9,53.9 114.0,59.1 114.0,60.2 114.0,63.2 114.0,62.6 114.0,61.1 114.0,59.6 114.0,59.2 114.1,59.6 114.1,59.7 114.1,58.2 114.1,66.4 114.1,61.8 114.1,62.5 114.1,65.4 114.1,63.7 114.1,64.7 114.2,60.2 114.2,63.0 114.2,70.6 114.2,70.0 114.2,65.0 114.2,65.4 114.2,63.5 114.2,63.7 114.2,67.1 114.2,69.0 114.2,73.4 114.2,65.6 114.3,66.2 114.3,71.4 114.3,68.4 114.3,67.1 114.3,69.3 114.3,68.6 114.3,72.9 114.3,69.4 114.3,72.0 114.3,68.7 114.3,72.6 114.3,66.9 114.3,73.7 114.4,74.5 114.4,73.2 114.4,71.7 114.4,70.6 114.4,75.7 114.4,77.6 114.4,73.5 114.4,73.5 114.4,72.6 114.4,75.2 114.4,71.8 114.4,76.4 114.4,74.8 114.4,73.4 114.5,75.1 114.5,76.4 114.5,73.3 114.5,75.9 114.5,83.2 114.5,77.5 114.5,78.2 114.5,78.6 114.5,79.1 114.5,77.5 114.5,78.9 114.5,77.4 114.5,79.4 114.6,77.8 114.6,85.9 114.6,80.1 114.6,89.3 114.6,82.8 114.6,82.4 114.6,81.7 114.6,77.3 114.6,75.9 114.6,83.9 114.6,85.3 114.6,80.2 114.6,81.1 114.7,80.3 114.7,86.4 114.7,87.8 114.7,85.4 114.7,86.3 114.7,90.9 114.7,88.3 114.7,93.9 114.7,86.9 114.7,87.8 114.7,90.0 114.8,86.6 114.8,88.3 114.8,85.0 114.8,92.9 114.8,94.8 114.8,90.4 114.8,88.5 114.8,91.1 114.8,89.8 114.8,88.6 114.9,91.9 114.9,91.7 114.9,92.3 114.9,94.2 114.9,89.8 114.9,96.5 114.9,96.9 114.9,94.7 114.9,90.0 115.0,91.2 115.0,88.6 115.0,92.2 115.0,97.0 115.0,97.4 115.0,93.9 115.0,94.6 115.0,95.7 115.0,93.8 115.0,95.6 115.1,100.5 115.1,95.2 115.1,102.8 115.1,91.8 115.1,100.3 115.1,98.4 115.1,102.1 115.1,92.4 115.1,99.9 115.2,103.0 115.2,101.2 115.2,103.0 115.2,101.3 115.2,101.6 115.2,102.2 115.2,107.9 115.2,103.5 115.3,101.9 115.3,102.6 115.3,103.6 115.3,102.8 115.3,106.7 115.3,105.0 115.3,107.6 115.3,105.1 115.3,101.3 115.4,105.8 115.4,103.8 115.4,104.4 115.4,104.9 115.4,107.0 115.4,110.7 115.4,103.6 115.4,115.0 115.4,109.8 115.5,105.8 115.5,107.7 115.5,104.7 115.5,110.2 115.5,106.3 115.5,107.6 115.5,111.3 115.5,109.4 115.6,114.2 115.6,111.1 115.6,113.6 115.6,108.9 115.6,109.5 115.6,114.7 115.6,114.8 115.6,118.0 115.6,117.3 115.7,109.3 115.7,114.5 115.7,109.4 115.7,112.8 115.7,114.4 115.7,121.4 115.7,113.5 115.7,114.1 115.7,117.4 115.8,118.2 115.8,117.8 115.8,117.1 115.8,118.8 115.8,111.7 115.8,121.9 115.8,121.2 115.8,120.6 115.9,114.2 115.9,119.6 115.9,119.7 115.9,121.1 115.9,116.8 115.9,118.5 115.9,127.7 115.9,118.2 115.9,127.8 116.0,117.7 116.0,118.5 116.0,126.1 116.0,124.1 116.0,122.2 116.0,126.3 116.0,122.7 116.0,127.3 116.1,123.3 116.1,123.4 116.1,124.8 116.1,126.3 116.1,124.8 116.1,122.9 116.1,124.7 116.1,133.8 116.1,128.5 116.1,126.0 116.2,129.8 116.2,136.5 116.2,126.6 116.2,127.6 116.2,128.0 116.2,132.4 116.2,128.6 116.2,128.0 116.2,125.5 116.3,126.9 116.3,126.8 116.3,133.0 116.3,123.7 116.3,128.2 116.3,129.1 116.3,133.3 116.3,129.5 116.3,129.7 116.4,132.4 116.4,128.6 116.4,134.8 116.4,132.1 116.4,132.9 116.4,136.6 116.4,136.8 116.4,131.4 116.4,133.4 116.5,134.7 116.5,138.2 116.5,139.7 116.5,133.8 116.5,141.4 116.5,136.6 116.5,137.5 116.5,143.0 116.5,135.7 116.6,138.4 116.6,142.2 116.6,138.2 116.6,138.1 116.6,139.6 116.6,141.0 116.6,137.5 116.6,137.7 116.6,142.3 116.7,143.1 116.7,140.3 116.7,142.9 116.7,142.7 116.7,138.2 116.7,143.2 116.7,147.7 116.7,145.1 116.7,143.8 116.8,143.5 116.8,146.1 116.8,141.3 116.8,145.5 116.8,144.2 116.8,143.5 116.8,143.5 116.8,141.9 116.8,145.1 116.9,144.8 116.9,145.8 116.9,147.0 116.9,150.0 116.9,151.7 116.9,146.7 116.9,148.1 116.9,151.1 117.0,149.6 117.0,148.2 117.0,146.9 117.0,151.5 117.0,146.6 117.0,153.5 117.0,146.2 117.0,150.0 117.1,152.1 117.1,155.2 117.1,150.8 117.1,148.8 117.1,152.4 117.1,151.0 117.1,150.4 117.2,157.8 117.2,154.4 117.2,155.3 117.2,152.4 117.2,154.6 117.2,152.6 117.2,152.9 117.3,154.3 117.3,154.1 117.3,154.6 117.3,151.0 117.3,154.4 117.3,160.1 117.4,158.0 117.4,161.5 117.4,157.4 117.4,154.2 117.4,160.9 117.4,157.6 117.5,154.9 117.5,160.8 117.5,161.8 117.5,160.2 117.5,156.3 117.6,159.8 117.6,160.2 117.6,163.9 117.6,163.6 117.6,163.9 117.7,164.9 117.7,162.1 117.7,165.6 117.7,164.7 117.8,161.6 117.8,166.4 117.8,165.5 117.8,170.0 117.9,166.3 117.9,165.2 117.9,162.4 117.9,167.0 118.0,165.1 118.0,172.2 118.0,168.8 118.1,168.4 118.1,170.1 118.2,175.3 118.2,167.2 118.2,167.7 118.3,166.2 118.3,164.5 118.4,171.1 118.4,167.9 118.4,168.5 118.5,176.1 118.5,171.6 118.6,173.6 118.6,171.6 118.7,169.7 118.7,167.8 118.7,174.9 118.8,174.4 118.8,173.4 118.9,173.3 118.9,178.9 118.9,176.2 119.0,172.9 119.0,175.8 119.0,173.3 119.1,177.7 119.1,176.3 119.1,175.2 119.2,178.4 119.2,178.5 119.2,180.2 119.3,173.7 119.3,178.6 119.3,178.5 119.3,175.2 119.4,179.8 119.4,177.5 119.4,175.3 119.4,185.0 119.5,179.9 119.5,177.8 119.5,183.6 119.5,183.0 119.6,182.3 119.6,182.9 119.6,183.3 119.6,185.1 119.6,178.8 119.7,181.3 119.7,181.6 119.7,187.4 119.7,183.8 119.7,180.6 119.8,183.3 119.8,183.9 119.8,184.9 119.8,183.7 119.8,181.4 119.8,187.9 119.9,185.8 119.9,184.1 119.9,183.0 119.9,185.4 119.9,188.4 119.9,187.5 119.9,183.2 120.0,184.6 120.0,186.8 120.0,180.4 120.0,188.6 120.0,196.6 120.0,189.6 120.0,191.4 120.1,190.8 120.1,192.1 120.1,189.6 120.1,185.6 120.1,190.7 120.1,193.1 120.1,193.0 120.2,191.5 120.2,193.9 120.2,193.9 120.2,194.2 120.2,190.1 120.2,196.5 120.3,194.0 120.3,197.7 120.3,200.5 120.3,193.4 120.3,194.5 120.3,191.1 120.3,195.4 120.4,199.0 120.4,198.2 120.4,194.0 120.4,197.4 120.4,198.2 120.4,196.4 120.4,196.6 120.5,199.2 120.5,201.0 120.5,197.0 120.5,200.2 120.5,204.8 120.5,203.2 120.6,197.2 120.6,198.9 120.6,198.5 120.6,201.8 120.6,204.0 120.7,209.8 120.7,200.5 120.7,207.2 120.7,202.8 120.7,202.3 120.7,200.2 120.8,200.5 120.8,206.9 120.8,210.3 120.8,207.4 120.8,205.8 120.9,207.5 120.9,208.3 120.9,200.5 120.9,203.0 120.9,203.7 121.0,209.3 121.0,208.0 121.0,203.8 121.0,204.3 121.1,202.5 121.1,209.4 121.1,213.8 121.1,207.0 121.2,213.4 121.2,203.4 121.2,209.8 121.2,209.1 121.3,209.1 121.3,216.6 121.3,214.8 121.4,210.3 121.4,211.7 121.4,209.7 121.5,211.7 121.5,216.0 121.5,211.1 121.6,214.4 121.6,213.7 121.6,209.5 121.7,213.7 121.7,214.3 121.7,213.9 121.8,217.5 121.8,218.5 121.8,213.2 121.9,217.0 121.9,214.8 121.9,215.0 122.0,216.5 122.0,221.4 122.1,213.6 122.1,219.3 122.1,222.1 122.2,219.6 122.2,212.4 122.2,219.8 122.3,222.1 122.3,220.1 122.4,221.8 122.4,222.5 122.4,220.7 122.5,222.6 122.5,220.9 122.6,226.0 122.6,222.3 122.6,225.4 122.7,223.9 122.7,225.1 122.8,222.3 122.8,223.3 122.8,222.8 122.9,219.7 122.9,227.6 123.0,224.0 123.0,225.6 123.1,226.7 123.1,227.7 123.2,227.0 123.2,227.3 123.3,228.7 123.3,226.4 123.4,227.2 123.4,228.2 123.5,228.6 123.5,232.0 123.6,224.7 123.6,229.7 123.7,228.1 123.7,232.3 123.8,228.1 123.8,231.8 123.9,231.6 123.9,235.5 124.0,234.6 124.0,230.4 124.1,232.0 124.1,232.6 124.2,233.7 124.3,227.8 124.3,234.2 124.4,234.4 124.4,236.7 124.5,236.9 124.6,237.9 124.7,238.4 124.7,236.3 124.8,239.3 124.9,233.6 124.9,236.3 125.0,234.3 125.1,235.7 125.1,239.5 125.2,233.1 125.3,238.0 125.3,235.7 125.4,239.7 125.5,237.0 125.6,241.1 125.6,237.8 125.7,239.4 125.8,237.8 125.9,235.4 125.9,239.9 126.0,240.5 126.1,241.2 126.2,243.5 126.3,239.2 126.4,242.6 126.5,245.8 126.6,238.7 126.7,247.2 126.8,242.9 126.9,247.6 127.0,245.5 127.1,242.6 127.2,241.9 127.3,243.8 127.4,244.3 127.5,245.4 127.6,251.8 127.8,246.4 127.9,248.8 128.0,242.2 128.2,248.8 128.3,244.2 128.5,253.2 128.6,247.0 128.8,247.5 129.0,244.5 129.1,247.1 129.3,251.4 129.5,247.1 129.6,249.2 129.8,255.9 129.9,250.0 130.1,248.5 130.2,248.2 130.4,249.0 130.6,251.2 130.8,250.2 131.0,256.5 131.1,246.5 131.3,257.3 131.5,254.4 131.7,255.2 131.9,252.3 132.1,254.3 132.2,252.7 132.4,255.5 132.6,251.6 132.8,250.1 133.0,249.1 133.2,253.2 133.4,251.7 133.6,256.8 133.8,256.7 134.0,250.1 134.2,252.1 134.4,252.1 134.6,256.7 134.8,260.5 135.0,259.2 135.2,254.5 135.4,258.2 135.7,259.5 135.9,256.7 136.1,255.2 136.3,261.7 136.5,258.1 136.7,255.3 136.9,256.5 137.1,257.4 137.3,258.7 137.6,259.2 137.8,258.1 138.0,263.0 138.2,260.6 138.4,264.8 138.6,259.3 138.8,261.4 139.1,261.3 139.3,261.9 139.5,266.4 139.8,267.3 140.0,264.0 140.3,265.1 140.5,263.5 140.8,263.0 141.0,262.1 141.3,268.3 141.6,262.6 141.9,264.3 142.2,262.5 142.4,264.2 142.8,263.4 143.1,265.6 143.5,264.5 143.8,267.1 144.1,262.2 144.4,265.0 144.7,269.2 145.1,268.2 145.4,268.1 145.7,263.6 146.0,261.4 146.3,270.5 146.7,267.4 147.0,262.0 147.4,268.8 147.7,269.7 148.0,265.6 148.3,267.7 148.6,267.4 148.9,264.6 149.2,266.6 149.6,261.8 149.9,263.0 150.2,269.9 150.5,266.0 150.8,268.8 151.1,267.1 151.4,268.6 151.7,272.0 152.0,268.9 152.3,265.5 152.6,267.4 152.8,269.1 153.1,267.7 153.4,265.6 153.7,265.1 154.0,268.9 154.3,268.8 154.6,270.6 154.9,271.4 155.2,264.0 155.5,268.3 155.8,267.4 156.2,269.7 156.5,268.7 156.8,267.9 157.1,270.5 157.4,267.8 157.7,267.2 158.1,271.2 158.4,270.6 158.7,270.4 159.0,266.0 159.3,271.0 159.7,269.9 160.0,266.7 160.3,270.7 160.6,270.6 161.0,269.4 161.3,270.6 161.6,276.1 161.9,274.1 162.2,269.9 162.5,272.6 162.9,277.8 163.2,271.2 163.5,273.3 163.8,272.8 164.1,266.4 164.4,275.7 164.7,275.4 165.0,276.8 165.3,271.4 165.6,270.3 165.9,272.7 166.2,269.6 166.5,274.8 166.8,273.8 167.1,275.0 167.5,271.5 167.8,271.5 168.1,276.1 168.4,269.5 168.7,271.5 169.0,278.6 169.3,272.6 169.6,274.8 169.9,270.5 170.2,276.5 170.5,274.4 170.8,276.3 171.1,274.9 171.5,273.6 171.8,277.5 172.1,274.1 172.4,272.2 172.7,274.8 173.0,273.3 173.3,278.0 173.6,273.5 173.9,274.2 174.2,274.9 174.5,279.9 174.8,278.6 175.1,275.1 175.4,276.9 175.8,276.7 176.1,273.7 176.5,278.5 176.8,274.8 177.2,279.6 177.5,275.7 177.9,273.7 178.2,277.6 178.6,276.3 178.9,275.6 179.2,278.9 179.6,279.8 179.9,273.3 180.3,274.0 180.6,274.5 180.9,275.2 181.2,273.9 181.5,272.2 181.8,279.3 182.0,275.8 182.3,274.9 182.6,276.5 182.9,277.5 183.2,273.3 183.5,276.8 183.8,276.0 184.0,279.2 184.3,273.8 184.6,275.0 184.9,275.4 185.1,273.1 185.4,272.5 185.7,274.6 186.0,273.7 186.2,275.6 186.5,274.2 186.8,271.6 187.1,273.1 187.3,273.7 187.6,271.2 187.8,272.7 188.1,270.8 188.3,272.0 188.6,269.7 188.9,272.5 189.1,268.9 189.3,270.9 189.6,269.3 189.8,269.8 190.0,270.7 190.3,264.5 190.6,270.9 190.8,267.2 191.1,270.8 191.3,273.9 191.6,268.3 191.8,267.6 192.1,269.9 192.3,269.9 192.6,272.4 192.8,272.6 193.0,265.7 193.2,268.0 193.4,268.2 193.7,270.7 193.9,266.0 194.1,266.6 194.3,265.8 194.5,263.3 194.7,266.5 194.9,265.0 195.1,262.9 195.3,266.4 195.6,262.8 195.8,267.8 196.0,264.4 196.2,264.2 196.4,261.0 196.6,259.3 196.8,263.3 197.0,262.3 197.2,264.2 197.4,258.5 197.6,258.0 197.8,260.3 197.9,258.6 198.1,259.0 198.3,255.6 198.5,257.5 198.6,256.4 198.8,260.1 199.0,261.2 199.2,261.2 199.4,259.6 199.6,255.4 199.7,258.3 199.9,256.9 200.0,259.5 200.2,258.7 200.3,256.0 200.5,254.9 200.7,255.4 200.9,257.4 201.0,253.4 201.2,254.1 201.4,253.8 201.5,253.3 201.7,252.9 201.8,253.5 201.9,254.4 202.0,254.1 202.1,252.1 202.2,253.8 202.3,252.5 202.4,253.7 202.5,249.7 202.5,249.0 202.6,248.6 202.7,249.9 202.7,247.0 202.8,250.8 202.8,251.3 202.9,245.2 203.0,249.0 203.0,249.3 203.1,249.1 203.1,245.9 203.2,247.3 203.2,246.5 203.3,246.0 203.4,247.5 203.4,244.0 203.5,237.0 203.6,247.1 203.7,243.2 204.0,242.7 204.3,248.8 204.4,245.7 204.4,248.6 204.5,247.5 204.6,247.4 204.6,250.3 204.7,243.4 204.7,250.4 204.8,246.8 204.8,246.5 204.9,248.5 204.9,247.3 204.9,247.0 205.0,246.9 205.0,249.5 205.0,248.4 205.1,250.1 205.1,251.5 205.1,252.9 205.2,249.1 205.2,246.4 205.2,250.4 205.2,252.0 205.3,251.4 205.3,248.1 205.3,255.4 205.4,251.0 205.4,252.6 205.4,255.5 205.5,256.8 205.5,255.1 205.5,254.6 205.6,256.2 205.6,257.2 205.6,252.6 205.7,256.7 205.7,255.0 205.7,257.5 205.8,254.0 205.8,258.6 205.8,257.5 205.9,257.5 205.9,257.7 206.0,257.7 206.0,258.2 206.1,259.4 206.1,261.9 206.2,259.5 206.2,258.6 206.3,259.0 206.3,260.1 206.4,262.0 206.4,259.1 206.5,263.2 206.5,266.3 206.6,261.4 206.7,264.4 206.8,264.8 206.9,265.9 206.9,264.3 207.0,262.7 207.1,261.2 207.2,260.6 207.3,263.1 207.4,263.1 207.6,265.5 207.7,264.2 207.8,265.8 207.9,266.1 208.1,264.0 208.2,270.9 208.4,262.6 208.5,267.4 208.7,268.5 208.8,266.6 209.0,268.4 209.2,266.0 209.3,271.8 209.5,270.7 209.7,266.7 209.9,268.5 210.0,271.5 210.2,273.0 210.4,268.9 210.7,273.9 210.9,263.8 211.2,269.5 211.4,269.3 211.7,271.9 212.0,272.2 212.2,271.3 212.5,277.3 212.8,274.5 213.0,273.7 213.3,272.9 213.5,268.9 213.7,277.5 214.0,272.8 214.3,271.5 214.6,274.6 214.8,275.3 215.1,280.0 215.4,270.4 215.7,276.7 216.0,274.9 216.3,275.6 216.7,271.0 217.0,278.7 217.3,277.7 217.6,276.0 217.9,273.7 218.1,274.7 218.4,275.5 218.8,277.9 219.1,275.5 219.4,275.9 219.7,273.7 220.1,273.8 220.4,276.6 220.7,278.9 221.1,277.7 221.4,276.8 221.7,277.6 222.1,276.7 222.4,278.1 222.8,281.4 223.1,277.5 223.4,282.9 223.8,278.0 224.1,276.9 224.5,277.0 224.8,276.8 225.1,278.3 225.5,275.2 225.8,276.4 226.1,277.0 226.5,276.3 226.8,279.3 227.1,277.0 227.4,276.9 227.7,277.3 228.0,278.4 228.3,278.9 228.7,275.9 229.0,277.8 229.3,280.3 229.7,278.1 230.0,275.6 230.3,280.1 230.6,274.1 230.9,282.9 231.2,278.9 231.5,277.1 231.8,276.4 232.2,276.2 232.5,274.8 232.8,277.0 233.1,277.4 233.4,279.0 233.6,275.4 233.9,274.8 234.1,276.0 234.3,275.9 234.6,275.9 234.8,274.0 235.1,273.8 235.3,278.3 235.6,274.2 235.9,274.3 236.2,274.6 236.5,273.9 236.8,273.9 237.0,272.9 237.3,273.5 237.6,275.6 237.9,271.4 238.2,269.9 238.5,274.1 238.8,271.8 239.1,270.8 239.4,273.4 239.7,270.9 240.0,271.4 240.3,276.0 240.6,272.1 240.9,269.1 241.2,273.8 241.5,274.1 241.7,272.2 242.0,275.0 242.3,276.7 242.5,272.0 242.8,275.7 243.0,276.3 243.3,275.0 243.6,277.3 243.8,273.9 244.1,275.0 244.4,273.0 244.6,280.3 244.8,276.8 245.1,276.7 245.3,281.1 245.5,276.4 245.8,277.3 246.0,279.4 246.3,276.2 246.5,275.8 246.8,278.6 247.1,275.7 247.4,276.1 247.7,275.4 248.0,277.3 248.3,278.2 248.6,278.5 248.8,280.7 249.1,281.5 249.4,278.5 249.7,280.8 250.0,278.3 250.3,282.7 250.7,281.1 251.0,275.3 251.3,278.2 251.7,278.5 252.0,277.3 252.3,280.2 252.6,282.7 253.0,284.1 253.3,276.8 253.6,281.5 253.9,281.2 254.2,283.4 254.6,279.3 254.9,280.8 255.2,280.0 255.5,284.8 255.8,282.5 256.1,278.0 256.4,281.8 256.7,279.2 257.0,279.6 257.3,280.3 257.6,276.3 258.0,277.8 258.3,279.7 258.6,284.6 258.9,280.3 259.2,280.5 259.6,278.7 259.9,279.1 260.2,279.1 260.6,279.5 260.9,284.9 261.2,282.1 261.6,281.4 261.9,285.8 262.2,283.8 262.5,283.1 262.8,279.7 263.1,276.8 263.4,283.0 263.7,280.7 264.0,282.0 264.3,279.2 264.6,279.9 264.9,284.4 265.2,281.6 265.5,283.7 265.8,283.5 266.1,283.3 266.4,278.4 266.7,281.2 267.0,278.9 267.3,281.2 267.7,283.8 268.0,286.5 268.3,280.7 268.7,285.5 269.0,285.4 269.3,281.8 269.7,283.8 270.0,278.6 270.3,279.0 270.6,280.8 270.9,282.9 271.2,282.8 271.5,281.3 271.8,283.9 272.1,280.9 272.4,282.9 272.8,282.1 273.1,285.2 273.4,280.4 273.7,284.3 274.0,281.2 274.3,284.9 274.7,284.0 275.0,280.8 275.3,286.8 275.6,284.3 275.9,282.2 276.2,282.1 276.5,283.6 276.8,284.0 277.1,285.1 277.4,282.9 277.7,284.3 278.1,282.0 278.4,283.4 278.7,280.4 279.0,281.7 279.3,284.2 279.6,283.7 279.9,283.6 280.2,282.8 280.5,283.7 280.8,280.6 281.2,283.8 281.5,284.2 281.8,278.0 282.1,283.2 282.4,281.9 282.7,283.5 283.1,286.7 283.4,284.4 283.7,279.5 284.0,279.8 284.3,281.3 284.7,279.2 285.0,287.5 285.3,279.1 285.6,284.6 285.9,282.6 286.2,281.9 286.5,283.1 286.9,284.9 287.2,280.0 287.5,284.8 287.8,283.7 288.1,284.4 288.4,282.9 288.7,281.7 289.0,282.0 289.3,283.3 289.6,282.3 289.9,284.4 290.2,281.5 290.5,289.0 290.8,283.3 291.1,282.6 291.4,280.8 291.7,281.5 292.0,286.5 292.3,287.6 292.6,284.0 292.9,284.8 293.2,284.8 293.5,282.0 293.8,286.9 294.2,286.3 294.5,284.8 294.8,283.4 295.1,285.2 295.4,285.0 295.7,282.5 296.0,282.7 296.3,284.8 296.6,284.8 296.9,281.6 297.2,283.4 297.5,285.0 297.9,285.5 298.2,287.5 298.5,281.6 298.8,289.2 299.1,281.8 299.4,285.3 299.7,284.6 300.0,285.0 300.4,280.2 300.7,283.6 301.0,285.4 301.3,286.2 301.6,286.7 301.9,285.6 302.2,283.7 302.5,289.3 302.9,284.4 303.2,284.7 303.5,287.4 303.8,286.6 304.1,282.1 304.4,282.5 304.7,286.6 305.0,288.3 305.3,284.0 305.6,286.3 305.9,282.4 306.2,284.3 306.5,284.1 306.8,284.3 307.1,285.0 307.4,284.6 307.7,284.2 308.0,289.3 308.3,286.2 308.6,285.6 308.9,289.1 309.2,286.5 309.5,286.9 309.8,285.9 310.1,284.1 310.4,286.2 310.7,289.7 311.0,285.1 311.3,288.0 311.6,284.4 311.9,285.4 312.2,287.3 312.5,284.6 312.8,289.2 313.1,289.5 313.4,288.2 313.7,286.4 314.0,289.3 314.3,285.3 314.7,285.7 315.0,289.1 315.3,286.6 315.6,285.3 315.9,288.4 316.2,288.6 316.5,287.5 316.8,286.4 317.1,287.9 317.4,283.8 317.7,289.7 318.0,286.3 318.3,286.5 318.6,288.5 318.9,288.2 319.2,285.6 319.5,291.0 319.8,288.5 320.1,283.0 320.4,289.4 320.7,283.6 321.0,286.9 321.4,290.5 321.7,289.8 322.0,284.8 322.3,284.0 322.6,285.5 322.9,284.6 323.2,287.0 323.5,289.2 323.8,283.9 324.1,284.5 324.4,289.5 324.7,285.4 325.0,287.9 325.3,286.1 325.6,287.5 325.9,286.3 326.2,287.8 326.5,284.4 326.8,286.7 327.2,288.2 327.5,287.4 327.8,290.6 328.1,289.1 328.4,288.2 328.7,284.2 329.0,287.2 329.3,285.6 329.6,286.9 329.9,288.4 330.2,286.6 330.5,287.2 330.8,288.2 331.1,287.7 331.4,288.4 331.7,287.0 332.1,286.7 332.4,290.0 332.7,283.6 333.0,291.3 333.3,287.0 333.6,289.7 333.9,290.1 334.2,285.8 334.5,287.4 334.8,285.5 335.1,285.0 335.4,285.9 335.7,290.0 336.0,288.8 336.3,286.2 336.7,289.3 337.0,289.2 337.3,287.0 337.6,291.0 337.9,290.6 338.2,285.3 338.5,291.4 338.8,289.8 339.1,288.0 339.4,287.8 339.7,288.1 340.0,287.7 340.3,287.1 340.6,289.0 340.9,288.7 341.2,288.6 341.6,287.8 341.9,287.2 342.2,286.9 342.5,293.0 342.8,289.7 343.1,288.3 343.4,287.7 343.7,290.1 344.0,290.7 344.3,286.9 344.6,288.5 344.9,287.3 345.2,285.7 345.5,288.7 345.8,285.9 346.1,288.4 346.4,285.8 346.8,288.3 347.1,288.5 347.4,288.0 347.7,286.9 348.0,286.3 348.3,287.2 348.6,290.1 348.9,286.6 349.2,289.4 349.5,289.3 349.8,286.5 350.1,288.3 350.4,286.0 350.7,290.4 351.0,284.7 351.4,284.5 351.7,288.7 352.0,286.4 352.3,286.5 352.6,289.0 352.9,291.5 353.2,285.2 353.5,287.8 353.9,288.1 354.2,288.9 354.5,289.9 354.8,286.6 355.1,288.6 355.5,291.5 355.8,288.3 356.1,287.3 356.4,289.2 356.7,290.5 357.0,290.3 357.4,285.3 357.7,285.0 358.0,287.6 358.3,286.0 358.6,288.2 358.9,288.6 359.3,287.0 359.6,283.3 359.9,288.3 360.2,286.9 360.6,287.4 360.9,286.1 361.2,284.6 361.6,285.2 361.9,286.4 362.2,281.5 362.5,287.8 362.8,283.8 363.2,287.1 363.5,284.0 363.8,284.3 364.1,285.4 364.4,286.4 364.7,286.2 365.1,284.8 365.4,288.2 365.7,284.9 366.0,284.4 366.3,288.7 366.7,286.8 367.0,285.1 367.3,287.0 367.6,287.8 367.9,284.7 368.3,282.8 368.6,285.8 368.9,288.6 369.2,290.5 369.5,285.5 369.8,286.9 370.1,288.3 370.4,284.1 370.7,286.0 371.0,284.9 371.3,284.9 371.6,285.3 371.9,285.6 372.2,283.1 372.5,286.4 372.8,283.2 373.2,286.1 373.5,285.7 373.8,287.9 374.1,287.0 374.4,288.2 374.7,287.2 375.0,289.8 375.4,283.2 375.7,287.0 376.0,287.3 376.3,288.5 376.7,285.2 377.0,286.2 377.3,282.8 377.6,288.7 377.9,292.0 378.2,286.5 378.6,288.8 378.9,288.9 379.2,287.1 379.5,287.2 379.8,283.9 380.1,286.1 380.4,286.4 380.7,282.0 381.0,288.6 381.4,284.4 381.7,287.6 382.0,288.5 382.3,287.9 382.6,283.4 382.9,286.7 383.2,284.6 383.5,289.1 383.9,288.3 384.2,287.1 384.5,287.0 384.8,286.7 385.1,291.8 385.4,285.7 385.8,289.2 386.1,289.6 386.4,287.8 386.7,288.0 387.1,286.9 387.4,286.3 387.7,287.4 388.0,291.2 388.4,285.6 388.7,288.3 389.0,289.1 389.3,288.4 389.6,285.1 389.9,290.8 390.2,290.3 390.5,285.9 390.8,286.3 391.2,289.7 391.5,287.8 391.8,286.8 392.1,285.9 392.4,289.2 392.7,285.0 393.0,291.9 393.3,288.2 393.6,283.8 393.9,287.5 394.2,288.4 394.5,287.5 394.8,289.0 395.1,287.2 395.4,287.5 395.8,288.7 396.1,288.3 396.4,289.0 396.7,288.7 397.0,290.0 397.3,292.4 397.7,288.8 398.0,290.4 398.3,290.3 398.6,287.4 398.9,290.8 399.2,290.7 399.5,288.1 399.8,288.6 400.2,286.7 400.5,287.1 400.8,288.6 401.1,290.8 401.4,289.3 401.7,287.3 402.0,289.9 402.3,289.0 402.6,290.0 402.9,291.6 403.2,290.3 403.5,286.0 403.9,287.3 404.2,290.0 404.5,290.2 404.8,289.9 405.1,289.5 405.4,289.0 405.7,287.6 406.0,284.3 406.3,293.2 406.6,286.1 406.9,288.5 407.2,289.7 407.5,291.2 407.8,287.2 408.2,285.2 408.5,286.7 408.8,293.4 409.1,292.5 409.4,292.5 409.7,288.7 410.0,289.8 410.3,287.3 410.6,289.9 410.9,287.8 411.3,289.9 411.6,291.6 411.9,290.1 412.2,286.5 412.5,288.5 412.8,291.0 413.1,289.3 413.5,296.5 413.8,287.2 414.1,296.1 414.4,290.6 414.7,286.6 415.1,289.0 415.4,291.1 415.7,288.9 416.0,290.3 416.3,290.0 416.7,287.6 417.0,294.5 417.3,290.8 417.6,287.9 417.9,290.7 418.2,290.1 418.5,292.1 418.8,293.0 419.1,293.7 419.5,292.1 419.8,292.0 420.1,286.8 420.4,284.9 420.7,289.6 421.0,293.4 421.3,289.3 421.6,287.2 421.9,287.4 422.2,291.6 422.5,289.0 422.9,293.1 423.2,288.1 423.5,294.3 423.8,292.1 424.1,289.9 424.4,291.2 424.7,292.2 425.0,292.4 425.3,292.7 425.7,290.8 426.0,293.2 426.3,290.7 426.6,289.9" fill="none" stroke="#2341ee" stroke-width="1.15" stroke-linejoin="miter"/><path d="M59.3,212.4 59.7,219.5 60.1,218.6 60.4,213.0 60.7,209.6 61.0,212.4 61.3,211.5 61.7,211.2 62.0,211.2 62.4,214.0 62.7,219.5 63.0,208.3 63.4,212.5 63.7,213.6 64.0,208.3 64.3,209.5 64.6,211.5 64.9,211.7 65.2,209.3 65.5,208.6 65.9,210.4 66.2,209.6 66.5,213.0 66.8,208.7 67.1,208.3 67.4,199.2 67.7,206.3 68.1,206.2 68.4,210.9 68.7,207.3 69.0,204.7 69.3,209.0 69.6,210.7 69.9,206.8 70.3,202.1 70.6,209.3 70.9,205.0 71.2,200.9 71.5,206.2 71.9,202.5 72.2,206.3 72.5,205.3 72.8,203.2 73.1,201.1 73.4,207.5 73.7,200.2 74.0,205.7 74.3,200.9 74.6,203.6 74.8,198.9 75.1,200.4 75.3,206.7 75.5,208.2 75.8,201.1 76.0,202.9 76.3,200.3 76.5,201.6 76.8,197.4 77.1,206.3 77.3,205.6 77.6,202.1 77.9,204.6 78.1,197.6 78.3,200.9 78.6,207.0 78.8,199.2 79.1,197.0 79.3,202.5 79.5,198.1 79.7,203.7 79.9,194.8 80.2,199.1 80.4,205.2 80.6,198.7 80.9,201.3 81.1,192.4 81.4,194.0 81.6,200.6 81.8,194.7 82.1,198.5 82.3,197.4 82.6,195.7 82.8,192.3 83.0,194.5 83.3,198.0 83.5,193.5 83.7,195.4 83.9,201.1 84.1,197.2 84.4,193.2 84.6,195.5 84.8,194.5 85.1,201.2 85.3,193.1 85.5,198.3 85.7,197.0 85.9,193.3 86.2,192.4 86.5,186.8 86.7,195.6 86.9,195.9 87.2,191.6 87.4,191.9 87.6,189.4 87.8,190.5 88.0,191.0 88.2,182.7 88.4,188.2 88.6,186.2 88.8,192.0 89.0,189.0 89.2,188.9 89.4,188.4 89.6,184.6 89.9,184.8 90.0,189.3 90.1,193.4 90.3,187.7 90.4,184.4 90.5,188.9 90.7,190.2 90.8,182.7 91.0,182.0 91.1,183.8 91.2,185.2 91.4,183.2 91.5,182.3 91.6,181.6 91.8,183.2 91.9,187.0 92.1,178.5 92.3,177.6 92.5,188.5 92.7,178.0 92.9,179.6 93.1,187.4 93.3,177.7 93.5,177.3 93.7,179.9 93.9,174.4 94.1,180.4 94.3,182.4 94.5,171.6 94.7,177.7 94.9,176.5 95.1,168.8 95.2,181.2 95.4,171.4 95.5,179.7 95.6,177.5 95.7,175.5 95.9,171.8 96.0,173.2 96.2,173.0 96.4,178.8 96.6,168.5 96.7,172.3 96.8,173.3 96.9,173.0 97.0,174.3 97.1,175.0 97.2,174.7 97.3,167.1 97.4,167.1 97.5,170.8 97.6,169.0 97.7,169.0 97.8,172.3 97.9,169.6 98.0,170.1 98.0,174.3 98.1,168.3 98.2,172.2 98.3,167.5 98.3,171.0 98.4,171.4 98.5,170.7 98.5,165.8 98.6,166.8 98.6,170.8 98.7,165.2 98.7,165.7 98.8,167.0 98.8,163.1 98.9,162.8 98.9,160.6 99.0,161.4 99.0,170.2 99.0,162.6 99.1,160.0 99.1,160.9 99.2,167.4 99.2,154.6 99.3,158.5 99.3,159.0 99.4,159.5 99.4,157.7 99.4,161.0 99.5,160.7 99.5,168.0 99.6,156.1 99.6,160.9 99.7,154.8 99.7,153.3 99.7,158.1 99.8,155.6 99.8,158.3 99.9,157.4 99.9,158.3 100.0,154.8 100.0,157.8 100.1,154.1 100.1,148.0 100.2,151.3 100.2,153.2 100.3,153.5 100.3,156.7 100.4,156.0 100.4,155.4 100.5,147.3 100.5,143.6 100.6,149.9 100.6,153.8 100.7,154.4 100.7,151.1 100.8,147.3 100.9,154.7 100.9,148.9 101.0,148.6 101.1,153.9 101.1,147.0 101.2,145.8 101.3,152.3 101.4,150.1 101.4,149.0 101.5,146.7 101.6,144.1 101.7,143.6 101.8,142.4 101.8,144.8 101.9,147.9 102.0,141.9 102.1,145.9 102.2,144.1 102.2,144.3 102.3,144.3 102.4,141.5 102.5,140.4 102.6,141.1 102.6,144.5 102.7,142.5 102.8,145.1 102.9,142.9 103.0,144.2 103.1,137.5 103.1,138.6 103.2,140.9 103.3,136.4 103.4,141.6 103.5,140.3 103.5,139.3 103.6,134.1 103.7,132.5 103.8,140.3 103.9,133.6 104.0,131.5 104.1,143.8 104.2,136.8 104.2,134.2 104.3,135.2 104.4,140.3 104.5,133.8 104.6,140.5 104.7,137.1 104.8,134.7 104.9,129.8 105.0,138.7 105.1,136.7 105.2,133.6 105.4,136.1 105.5,134.4 105.6,134.2 105.7,137.4 105.8,132.2 105.9,127.6 106.0,130.3 106.1,133.1 106.2,131.2 106.3,128.3 106.4,128.7 106.5,133.7 106.6,122.9 106.7,134.4 106.8,128.7 106.9,123.0 106.9,127.6 107.0,126.2 107.1,124.3 107.1,123.6 107.2,129.8 107.3,130.5 107.3,125.7 107.4,127.2 107.4,127.1 107.5,127.9 107.5,128.5 107.6,125.5 107.7,121.4 107.7,126.2 107.8,127.9 107.8,123.9 107.9,121.1 107.9,129.1 108.0,126.0 108.0,123.2 108.1,121.4 108.1,118.3 108.2,120.3 108.2,120.7 108.2,119.2 108.3,119.1 108.3,118.0 108.4,119.7 108.4,117.5 108.5,117.1 108.5,114.8 108.6,113.4 108.6,120.0 108.7,121.2 108.7,119.3 108.8,114.7 108.8,119.1 108.8,115.8 108.9,118.0 108.9,110.7 109.0,121.1 109.0,119.5 109.1,111.6 109.1,117.9 109.1,112.0 109.2,112.3 109.2,112.9 109.3,113.3 109.3,115.2 109.4,120.1 109.4,116.7 109.4,111.9 109.5,114.9 109.5,115.0 109.6,113.8 109.6,109.2 109.6,113.4 109.7,109.5 109.7,110.4 109.8,107.3 109.8,107.3 109.9,111.6 109.9,111.0 109.9,106.0 110.0,107.9 110.0,104.4 110.1,113.4 110.1,105.8 110.2,110.0 110.2,103.8 110.3,109.7 110.3,105.2 110.3,112.2 110.4,103.0 110.4,103.9 110.5,102.7 110.5,99.0 110.6,107.3 110.6,107.7 110.6,101.5 110.7,107.5 110.7,107.6 110.7,101.9 110.7,100.9 110.7,98.9 110.7,99.8 110.8,94.5 110.8,97.9 110.8,102.4 110.8,96.3 110.8,101.3 110.8,99.2 110.8,99.1 110.9,94.6 110.9,99.0 110.9,97.3 110.9,94.4 110.9,97.1 110.9,96.1 110.9,96.1 110.9,98.5 110.9,96.0 110.9,92.6 110.9,94.4 111.0,93.0 111.0,97.3 111.0,102.2 111.0,91.8 111.0,92.0 111.0,91.6 111.0,96.1 111.0,90.4 111.0,90.8 111.0,86.9 111.0,93.3 111.0,90.2 111.0,92.1 111.0,91.6 111.0,90.1 111.0,89.6 111.1,90.1 111.1,92.1 111.1,86.6 111.1,89.9 111.1,94.3 111.1,92.8 111.1,91.7 111.1,87.6 111.1,85.6 111.1,85.6 111.1,87.8 111.1,82.6 111.1,81.8 111.1,90.2 111.1,88.1 111.1,87.3 111.1,81.4 111.1,84.7 111.1,85.6 111.1,81.9 111.1,81.3 111.1,82.4 111.2,84.4 111.2,89.7 111.2,77.4 111.2,78.8 111.2,82.1 111.2,81.6 111.2,89.1 111.2,82.0 111.2,78.8 111.2,77.5 111.2,81.8 111.2,85.9 111.2,80.2 111.2,84.1 111.2,76.9 111.2,81.5 111.2,76.0 111.2,75.6 111.2,79.0 111.2,70.0 111.2,78.4 111.2,76.4 111.2,77.9 111.2,76.0 111.2,74.0 111.2,80.6 111.2,77.1 111.2,72.2 111.2,78.3 111.2,68.7 111.2,70.9 111.2,68.9 111.2,74.4 111.2,71.2 111.2,71.8 111.2,71.6 111.2,68.4 111.2,72.4 111.2,73.8 111.3,71.5 111.3,77.5 111.3,69.8 111.3,66.2 111.3,77.2 111.3,65.5 111.3,71.6 111.3,70.5 111.3,68.3 111.3,65.4 111.3,59.9 111.3,64.1 111.3,65.3 111.3,69.8 111.3,67.9 111.3,66.6 111.3,65.8 111.3,60.4 111.3,67.2 111.3,67.7 111.3,63.4 111.3,62.5 111.3,67.4 111.3,61.2 111.3,60.8 111.3,60.8 111.3,61.4 111.4,60.1 111.4,55.5 111.4,64.0 111.4,61.8 111.4,62.7 111.4,57.7 111.4,64.8 111.4,59.5 111.4,65.7 111.4,57.2 111.4,65.4 111.4,60.4 111.5,60.5 111.5,60.6 111.5,48.6 111.5,57.2 111.5,56.5 111.5,59.9 111.5,60.3 111.5,56.3 111.5,52.7 111.5,58.4 111.6,58.7 111.6,53.3 111.6,56.3 111.6,52.7 111.6,54.7 111.6,53.9 111.6,55.1 111.6,59.6 111.6,54.1 111.7,49.7 111.7,53.6 111.7,53.5 111.7,49.7 111.7,52.6 111.7,50.1 111.7,47.0 111.7,52.3 111.8,48.7 111.8,48.2 111.8,47.9 111.8,49.7 111.8,52.3 111.8,51.2 111.8,48.1 111.8,52.4 111.9,45.7 111.9,46.1 111.9,45.5 111.9,47.3 111.9,48.9 111.9,42.1 111.9,44.9 111.9,47.8 112.0,47.9 112.0,47.3 112.0,44.2 112.0,46.6 112.0,49.0 112.0,47.7 112.0,45.8 112.0,42.4 112.1,40.3 112.1,40.2 112.1,38.3 112.1,43.3 112.1,40.1 112.1,43.3 112.1,43.0 112.1,38.4 112.2,40.2 112.2,36.9 112.2,39.0 112.2,36.6 112.2,33.0 112.2,34.9 112.2,35.9 112.3,36.5 112.3,37.0 112.3,37.5 112.3,41.2 112.3,37.2 112.3,36.3 112.3,35.1 112.3,34.6 112.4,37.5 112.4,35.5 112.4,32.4 112.4,38.3 112.4,35.6 112.4,36.2 112.4,32.2 112.5,32.5 112.5,37.9 112.5,28.7 112.5,35.4 112.5,29.0 112.5,32.9 112.5,32.9 112.6,29.4 112.6,25.1 112.6,29.3 112.6,29.9 112.6,30.3 112.6,25.0 112.6,28.5 112.6,27.4 112.7,32.8 112.7,26.1 112.7,20.9 112.7,32.4 112.7,24.2 112.7,22.3 112.7,22.6 112.7,30.0 112.8,28.4 112.8,30.9 112.8,24.4 112.8,22.6 112.8,27.4 112.8,25.4 112.8,25.9 112.8,30.1 112.9,23.3 112.9,23.5 112.9,20.9 112.9,19.8 112.9,21.6 112.9,17.4 112.9,24.2 112.9,22.5 112.9,21.8 113.0,23.6 113.0,22.5 113.0,19.2 113.0,22.4 113.0,15.7 113.0,18.4 113.0,20.1 113.0,15.1 113.0,18.9 113.1,19.6 113.1,20.4 113.1,17.9 113.1,16.9 113.1,13.3 113.1,17.4 113.1,11.7 113.1,15.2 113.1,20.1 113.2,23.3 113.2,16.5 113.2,15.2 113.2,13.7 113.2,11.6 113.2,8.8 113.2,18.2 113.2,13.8 113.3,13.6 113.3,14.0 113.3,8.6 113.3,13.4 113.3,12.6 113.3,7.2 113.3,12.2 113.4,8.7 113.4,7.4 113.4,10.6 113.4,12.4 113.4,7.4 113.4,5.2 113.5,8.6 113.5,10.4 113.5,7.6 113.5,8.8 113.5,3.6 113.6,4.0 113.6,7.9 113.6,2.2 113.6,6.2 113.7,4.9 113.8,5.6 113.9,2.1 114.0,5.7 114.0,3.5 114.0,5.3 114.0,4.8 114.1,10.0 114.1,6.0 114.1,9.9 114.1,10.1 114.2,8.3 114.2,11.1 114.2,10.3 114.2,4.8 114.2,12.6 114.3,11.5 114.3,10.6 114.3,11.2 114.3,15.0 114.3,7.8 114.3,10.7 114.4,12.2 114.4,16.6 114.4,13.9 114.4,15.0 114.4,7.6 114.4,6.3 114.5,15.9 114.5,7.3 114.5,13.2 114.5,17.1 114.5,21.3 114.5,15.1 114.5,18.2 114.5,14.2 114.6,15.6 114.6,19.2 114.6,16.8 114.6,19.0 114.6,22.8 114.6,17.7 114.6,16.9 114.6,15.5 114.7,18.8 114.7,21.7 114.7,19.5 114.7,21.8 114.7,24.6 114.7,18.2 114.7,23.3 114.8,16.4 114.8,20.9 114.8,21.4 114.8,20.3 114.8,19.5 114.8,21.8 114.8,23.9 114.8,18.6 114.8,25.5 114.9,30.4 114.9,17.0 114.9,22.7 114.9,19.3 114.9,24.0 114.9,27.2 114.9,24.5 114.9,23.5 115.0,27.3 115.0,23.2 115.0,26.3 115.0,30.4 115.0,33.3 115.0,27.4 115.0,26.9 115.0,28.3 115.1,24.7 115.1,32.1 115.1,31.7 115.1,29.7 115.1,29.8 115.1,29.0 115.1,32.5 115.1,29.6 115.1,29.2 115.2,28.3 115.2,25.4 115.2,28.4 115.2,35.9 115.2,30.6 115.2,34.3 115.2,35.0 115.2,34.5 115.3,32.2 115.3,35.7 115.3,31.0 115.3,35.5 115.3,37.3 115.3,37.9 115.3,37.7 115.3,34.0 115.3,38.5 115.4,34.0 115.4,37.9 115.4,33.4 115.4,38.5 115.4,39.9 115.4,41.9 115.4,39.3 115.4,32.2 115.4,37.1 115.4,43.1 115.5,37.1 115.5,41.4 115.5,37.0 115.5,34.5 115.5,41.5 115.5,43.3 115.5,37.4 115.5,41.5 115.5,41.0 115.5,40.1 115.6,46.9 115.6,43.6 115.6,41.6 115.6,45.6 115.6,45.9 115.6,42.9 115.6,48.2 115.6,48.8 115.6,50.9 115.6,42.6 115.6,46.8 115.7,45.3 115.7,46.7 115.7,46.3 115.7,44.4 115.7,47.6 115.7,48.9 115.7,53.0 115.7,48.0 115.7,51.1 115.7,51.7 115.7,55.3 115.8,51.8 115.8,46.4 115.8,55.8 115.8,48.8 115.8,51.0 115.8,51.2 115.8,45.3 115.8,50.4 115.8,55.3 115.8,50.2 115.8,53.9 115.8,53.7 115.9,54.1 115.9,62.0 115.9,56.1 115.9,54.5 115.9,53.6 115.9,52.9 115.9,52.9 115.9,51.3 115.9,59.9 115.9,56.5 115.9,58.2 115.9,59.4 115.9,57.5 116.0,60.5 116.0,59.2 116.0,61.7 116.0,61.0 116.0,53.9 116.0,59.4 116.0,60.0 116.0,63.0 116.0,63.3 116.0,57.8 116.0,62.7 116.0,64.8 116.0,60.6 116.0,60.7 116.1,64.0 116.1,63.6 116.1,62.1 116.1,64.3 116.1,63.3 116.1,61.2 116.1,68.8 116.1,67.6 116.1,70.5 116.1,64.2 116.1,61.9 116.1,63.9 116.1,71.3 116.1,66.4 116.1,68.6 116.1,66.8 116.1,63.6 116.2,70.4 116.2,69.2 116.2,63.3 116.2,72.8 116.2,73.1 116.2,67.1 116.2,69.5 116.2,68.4 116.2,70.7 116.2,69.6 116.2,72.6 116.2,71.5 116.2,70.2 116.2,76.9 116.2,71.0 116.2,69.7 116.2,72.4 116.2,71.0 116.2,71.9 116.2,75.4 116.2,75.9 116.3,75.6 116.3,75.1 116.3,75.0 116.3,75.7 116.3,77.1 116.3,78.6 116.3,75.7 116.3,82.1 116.3,79.7 116.3,81.4 116.3,82.1 116.3,79.2 116.3,81.2 116.3,82.0 116.3,78.3 116.3,78.7 116.3,75.5 116.3,74.5 116.3,81.2 116.3,82.7 116.3,80.4 116.3,75.7 116.4,82.5 116.4,80.8 116.4,80.4 116.4,84.8 116.4,82.5 116.4,79.1 116.4,87.1 116.4,86.3 116.4,85.8 116.4,86.2 116.4,86.1 116.4,79.1 116.4,84.9 116.4,84.5 116.4,87.4 116.4,85.7 116.4,87.7 116.4,84.2 116.4,82.2 116.4,84.5 116.5,88.3 116.5,85.7 116.5,92.4 116.5,92.2 116.5,87.6 116.5,89.5 116.5,85.3 116.5,89.3 116.5,84.8 116.5,89.4 116.5,86.9 116.5,90.0 116.5,92.7 116.5,89.2 116.5,91.9 116.5,85.9 116.5,89.4 116.6,89.5 116.6,90.3 116.6,95.2 116.6,93.0 116.6,94.2 116.6,97.0 116.6,92.6 116.6,92.4 116.6,97.1 116.6,97.3 116.6,92.4 116.6,98.1 116.6,90.6 116.6,98.5 116.6,96.9 116.7,97.7 116.7,95.9 116.7,97.7 116.7,104.1 116.7,99.0 116.7,100.4 116.7,104.6 116.7,96.0 116.7,100.0 116.7,101.5 116.7,102.7 116.7,102.3 116.7,104.6 116.7,107.2 116.8,103.9 116.8,102.0 116.8,99.5 116.8,101.7 116.8,103.5 116.8,100.1 116.8,103.7 116.8,101.2 116.8,108.1 116.8,102.4 116.8,105.5 116.8,108.2 116.8,103.7 116.8,103.4 116.9,104.9 116.9,103.1 116.9,103.3 116.9,107.7 116.9,109.0 116.9,109.9 116.9,110.5 116.9,105.6 116.9,111.8 116.9,105.0 116.9,113.3 116.9,107.6 116.9,108.4 117.0,113.6 117.0,111.2 117.0,109.9 117.0,106.4 117.0,108.8 117.0,113.1 117.0,110.5 117.0,109.3 117.0,115.7 117.0,112.1 117.0,116.8 117.0,111.4 117.0,106.1 117.1,112.6 117.1,115.0 117.1,112.1 117.1,113.3 117.1,113.6 117.1,111.4 117.1,118.0 117.1,117.1 117.1,118.2 117.1,115.7 117.1,112.0 117.1,120.1 117.1,117.8 117.2,118.6 117.2,116.5 117.2,119.5 117.2,120.6 117.2,120.4 117.2,124.4 117.2,117.1 117.2,118.3 117.2,121.8 117.2,121.7 117.2,116.3 117.2,119.5 117.2,122.8 117.2,120.6 117.3,124.4 117.3,120.3 117.3,120.1 117.3,123.5 117.3,121.9 117.3,126.0 117.3,123.6 117.3,126.2 117.3,125.7 117.3,124.9 117.3,125.3 117.3,129.3 117.3,128.5 117.3,128.6 117.3,121.8 117.4,126.0 117.4,132.1 117.4,125.7 117.4,125.0 117.4,128.8 117.4,125.5 117.4,128.0 117.4,130.6 117.4,131.0 117.4,133.7 117.4,129.8 117.4,128.6 117.4,130.7 117.4,127.4 117.4,134.2 117.4,128.9 117.5,132.6 117.5,133.5 117.5,136.0 117.5,133.5 117.5,130.8 117.5,137.6 117.5,137.4 117.5,133.0 117.5,133.6 117.5,135.8 117.5,131.6 117.5,143.5 117.5,137.8 117.5,136.0 117.5,137.2 117.5,138.7 117.5,139.0 117.6,137.3 117.6,136.3 117.6,138.7 117.6,140.6 117.6,137.9 117.6,142.7 117.6,141.7 117.6,142.2 117.6,138.8 117.6,141.5 117.6,137.6 117.6,137.6 117.6,143.3 117.6,147.5 117.6,141.6 117.6,144.9 117.6,142.9 117.7,141.3 117.7,143.3 117.7,145.8 117.7,138.9 117.7,147.1 117.7,139.5 117.7,146.5 117.7,148.1 117.7,142.6 117.7,143.7 117.7,138.8 117.7,144.7 117.7,148.4 117.7,149.0 117.7,145.0 117.7,147.8 117.8,149.3 117.8,145.4 117.8,152.5 117.8,150.8 117.8,150.9 117.8,155.2 117.8,146.7 117.8,154.1 117.8,149.8 117.8,149.7 117.8,153.7 117.8,151.7 117.8,147.4 117.8,154.8 117.8,153.0 117.9,155.1 117.9,148.3 117.9,148.0 117.9,154.5 117.9,149.7 117.9,153.0 117.9,156.8 117.9,148.3 117.9,154.2 117.9,154.3 117.9,155.6 117.9,154.1 117.9,156.4 117.9,154.3 118.0,156.8 118.0,154.6 118.0,161.4 118.0,156.4 118.0,161.2 118.0,157.0 118.0,158.9 118.0,158.2 118.0,155.9 118.0,159.6 118.0,158.1 118.0,162.8 118.1,159.5 118.1,162.3 118.1,161.8 118.1,157.7 118.1,160.4 118.1,163.2 118.1,155.0 118.1,168.2 118.1,157.8 118.1,163.5 118.2,162.9 118.2,166.0 118.2,160.9 118.2,167.6 118.2,162.7 118.2,166.3 118.2,166.0 118.2,171.3 118.2,168.6 118.2,164.7 118.3,170.6 118.3,161.6 118.3,167.5 118.3,167.4 118.3,172.9 118.3,163.0 118.3,167.9 118.3,170.2 118.4,171.2 118.4,168.1 118.4,171.4 118.4,163.9 118.4,163.3 118.4,169.8 118.4,171.8 118.5,174.2 118.5,172.7 118.5,166.6 118.5,170.8 118.5,169.3 118.5,178.7 118.6,167.1 118.6,167.8 118.6,171.7 118.6,173.5 118.6,175.6 118.7,175.3 118.7,172.6 118.7,175.7 118.7,177.2 118.7,176.1 118.8,181.1 118.8,174.2 118.8,175.8 118.8,181.0 118.9,172.2 118.9,178.9 118.9,178.8 118.9,181.3 119.0,176.4 119.0,180.1 119.0,180.8 119.1,180.4 119.1,181.6 119.1,177.9 119.2,178.7 119.2,184.7 119.2,181.3 119.3,181.9 119.3,181.7 119.4,178.2 119.4,184.1 119.5,179.9 119.5,177.1 119.6,180.9 119.6,178.2 119.7,185.3 119.8,177.2 119.8,184.9 119.9,186.3 120.0,184.6 120.0,187.9 120.1,186.0 120.2,180.6 120.3,186.7 120.3,184.2 120.4,190.1 120.5,185.1 120.6,183.6 120.6,189.2 120.7,190.0 120.8,188.1 120.9,187.0 120.9,188.6 121.0,187.2 121.1,197.4 121.2,191.2 121.3,189.4 121.3,188.4 121.4,189.4 121.5,190.8 121.6,193.5 121.7,190.2 121.8,191.4 121.8,195.8 121.9,196.4 122.0,196.4 122.1,189.8 122.2,189.9 122.3,202.3 122.5,194.7 122.6,194.5 122.7,194.2 122.8,195.7 122.9,200.2 123.0,196.8 123.1,196.3 123.3,198.2 123.4,196.3 123.5,199.2 123.7,199.4 123.8,197.2 123.9,197.8 124.1,193.4 124.2,199.5 124.4,198.0 124.5,197.7 124.7,200.1 124.8,200.0 125.0,206.0 125.2,197.2 125.3,203.9 125.5,201.3 125.7,201.6 125.9,196.3 126.1,200.0 126.3,203.3 126.4,207.9 126.6,200.8 126.8,203.4 127.0,202.7 127.2,203.4 127.5,205.2 127.7,203.9 127.9,203.7 128.1,205.1 128.3,207.4 128.5,206.9 128.8,204.8 129.0,204.6 129.2,208.7 129.4,202.9 129.7,206.6 129.9,211.0 130.1,207.0 130.4,206.1 130.6,202.0 130.8,205.7 131.1,208.0 131.3,207.5 131.6,206.5 131.8,208.6 132.0,209.6 132.2,206.7 132.4,205.1 132.6,206.7 132.8,203.9 133.0,215.7 133.3,217.7 133.5,212.4 133.7,210.8 133.9,208.5 134.2,205.1 134.4,211.1 134.6,209.5 134.9,214.1 135.1,216.4 135.3,210.4 135.5,210.6 135.7,211.4 135.9,208.0 136.1,214.9 136.3,216.3 136.5,210.1 136.7,217.0 137.0,214.1 137.2,216.0 137.4,215.6 137.7,214.3 137.9,216.1 138.1,216.1 138.3,213.7 138.6,218.6 138.8,216.1 139.0,215.3 139.2,214.7 139.4,213.1 139.6,216.5 139.9,212.7 140.1,218.5 140.4,218.7 140.6,223.1 140.9,216.7 141.2,221.5 141.4,217.5 141.7,214.6 141.9,225.5 142.1,219.6 142.4,221.3 142.7,222.5 143.0,223.5 143.3,215.5 143.6,221.2 143.9,222.8 144.3,220.9 144.6,221.2 145.0,228.1 145.4,219.7 145.7,222.4 146.0,217.9 146.3,220.4 146.6,224.2 146.9,220.3 147.2,220.0 147.4,220.2 147.8,218.5 148.1,221.6 148.4,219.8 148.8,220.8 149.1,224.0 149.4,221.9 149.7,218.8 149.9,222.3 150.2,222.3 150.5,222.1 150.8,222.1 151.1,221.6 151.4,226.8 151.8,224.5 152.1,220.2 152.4,221.0 152.7,221.8 153.0,222.6 153.3,223.7 153.5,226.3 153.8,223.2 154.1,221.1 154.4,232.0 154.7,224.4 155.0,226.0 155.3,223.5 155.7,228.5 156.0,224.3 156.4,221.0 156.7,224.0 157.1,225.4 157.5,223.8 158.0,224.2 158.4,223.1 158.8,223.1 159.1,222.3 159.4,227.8 159.7,218.9 160.0,228.2 160.2,226.6 160.5,225.3 160.7,225.3 161.0,224.1 161.2,225.1 161.5,228.1 161.7,225.4 162.0,222.6 162.3,226.8 162.6,220.9 162.8,225.4 163.1,224.8 163.4,216.6 163.6,222.2 163.9,216.1 164.2,221.4 164.4,220.5 164.7,216.1 164.9,221.2 165.2,224.4 165.7,219.7 166.2,221.5 166.7,219.4 167.1,223.8 167.3,218.9 167.5,218.6 167.7,216.2 167.9,218.0 168.1,221.5 168.4,222.0 168.6,221.0 168.8,220.8 169.0,222.7 169.2,225.8 169.4,223.0 169.6,221.3 169.8,225.5 170.0,223.1 170.2,225.5 170.4,222.2 170.5,228.9 170.7,227.2 170.9,227.9 171.1,228.1 171.3,224.3 171.5,220.9 171.7,226.9 171.9,227.2 172.1,225.8 172.3,233.0 172.4,229.1 172.6,229.3 172.8,224.5 173.0,227.9 173.2,229.7 173.4,229.8 173.6,229.3 173.7,228.7 173.9,229.6 174.1,230.1 174.3,225.0 174.5,230.1 174.8,229.7 175.0,232.4 175.2,232.7 175.5,233.7 175.7,231.5 175.9,229.4 176.2,235.6 176.4,234.9 176.7,226.1 177.0,230.5 177.4,235.7 177.8,232.9 178.2,233.5 178.6,237.3 178.9,231.3 179.3,227.1 179.7,231.9 180.0,233.5 180.3,226.9 180.5,235.2 180.7,230.4 181.0,231.0 181.2,229.8 181.5,229.4 181.7,229.5 182.0,227.2 182.2,228.6 182.5,229.3 182.7,228.9 183.0,226.5 183.3,225.7 183.5,229.5 183.8,226.2 184.1,225.8 184.4,227.6 184.7,227.1 184.9,232.3 185.1,230.6 185.3,224.1 185.6,221.4 185.8,225.1 186.0,228.2 186.2,226.1 186.4,229.1 186.7,223.6 186.9,228.8 187.1,222.5 187.3,229.6 187.5,225.1 187.8,229.2 188.0,226.0 188.2,223.4 188.4,222.7 188.6,223.1 188.8,222.9 189.0,226.7 189.2,224.4 189.4,221.0 189.6,221.3 189.8,221.0 190.0,219.5 190.2,223.0 190.4,221.2 190.5,218.3 190.7,220.8 190.9,217.0 191.1,212.0 191.3,218.5 191.4,217.3 191.6,218.2 191.8,219.4 191.9,217.2 192.1,218.8 192.3,220.1 192.4,218.5 192.6,218.1 192.8,219.0 192.9,218.7 193.1,211.3 193.2,217.6 193.4,218.5 193.6,213.6 193.7,217.6 193.9,215.4 194.0,212.3 194.1,213.2 194.3,214.8 194.4,213.1 194.6,210.7 194.7,208.6 194.9,211.2 195.0,213.5 195.1,208.8 195.3,212.7 195.4,211.9 195.5,205.6 195.6,205.3 195.8,206.1 195.9,208.2 196.0,209.7 196.1,205.8 196.2,207.1 196.3,208.8 196.5,209.1 196.6,204.9 196.7,206.7 196.8,209.8 196.9,206.6 197.0,209.8 197.1,206.0 197.2,207.7 197.3,203.6 197.4,205.1 197.6,201.4 197.7,201.3 197.9,203.2 198.1,203.3 198.5,201.6 198.9,205.8 199.1,202.7 199.3,203.3 199.4,203.8 199.6,204.4 199.7,203.2 199.8,208.1 200.0,210.5 200.1,209.1 200.2,203.9 200.3,206.4 200.4,206.7 200.5,203.6 200.6,208.1 200.7,206.7 200.7,209.9 200.8,208.0 200.9,211.5 201.0,212.0 201.1,209.1 201.2,211.1 201.3,208.2 201.4,212.1 201.5,210.5 201.6,215.3 201.7,212.1 201.8,211.1 201.9,213.4 202.0,209.3 202.0,208.6 202.1,214.3 202.3,215.1 202.4,214.0 202.5,215.3 202.6,214.9 202.7,216.0 202.8,213.9 202.9,223.2 203.0,216.3 203.1,218.2 203.2,215.7 203.3,216.5 203.4,220.4 203.5,218.6 203.6,220.1 203.7,221.7 203.9,218.7 204.0,222.0 204.1,219.6 204.2,218.1 204.4,220.4 204.5,221.9 204.7,224.8 204.8,220.3 204.9,221.9 205.1,224.0 205.2,217.4 205.4,223.2 205.5,220.7 205.7,221.3 205.9,223.2 206.0,223.0 206.2,227.6 206.3,226.6 206.5,226.7 206.7,222.5 206.8,225.9 207.0,220.4 207.2,225.3 207.4,226.4 207.7,224.0 208.0,228.7 208.3,226.3 208.7,233.2 209.1,224.2 209.4,227.1 209.7,225.6 210.0,222.8 210.3,226.7 210.6,226.3 210.9,228.7 211.2,231.2 211.5,230.2 211.8,231.4 212.2,228.7 212.5,228.5 212.8,229.4 213.1,232.0 213.4,228.9 213.7,229.7 214.0,228.3 214.3,233.1 214.5,230.7 214.8,229.0 215.1,230.1 215.4,231.3 215.7,229.0 215.9,231.9 216.2,234.5 216.5,230.0 216.8,229.6 217.1,228.1 217.3,229.2 217.7,233.3 218.0,231.5 218.3,235.4 218.6,234.9 218.9,232.4 219.2,231.1 219.5,232.1 219.8,230.6 220.1,234.2 220.3,232.9 220.6,229.1 220.9,231.7 221.2,231.5 221.5,229.6 221.8,230.1 222.1,233.2 222.3,234.6 222.6,232.3 222.9,230.8 223.2,232.9 223.5,232.7 223.8,233.6 224.1,230.1 224.4,229.6 224.7,237.5 224.9,230.6 225.2,230.8 225.5,236.7 225.8,231.3 226.1,234.5 226.4,237.0 226.7,237.3 226.9,234.1 227.2,235.0 227.5,235.8 227.8,233.3 228.1,235.9 228.5,235.4 228.8,236.9 229.1,232.6 229.4,235.5 229.7,238.5 230.0,238.1 230.3,233.6 230.6,237.7 230.9,233.6 231.2,230.4 231.5,235.9 231.8,236.5 232.1,236.2 232.4,235.6 232.7,236.9 233.0,229.8 233.4,234.1 233.7,235.8 234.0,235.7 234.3,238.0 234.6,235.7 234.9,234.2 235.2,233.5 235.5,231.6 235.8,238.7 236.1,237.4 236.5,237.4 236.8,237.1 237.1,238.0 237.4,236.1 237.7,237.8 238.0,238.1 238.3,236.2 238.6,237.3 239.0,238.8 239.3,234.9 239.6,237.5 239.9,237.4 240.2,239.9 240.5,237.2 240.9,236.1 241.2,238.5 241.5,240.3 241.8,234.0 242.1,238.4 242.4,234.5 242.8,238.1 243.1,240.8 243.4,238.3 243.7,237.1 244.0,239.5 244.3,236.5 244.6,236.1 245.0,237.1 245.3,233.4 245.6,230.9 245.9,236.2 246.2,235.8 246.5,238.2 246.9,234.0 247.2,237.8 247.5,235.6 247.8,237.3 248.1,239.0 248.4,244.9 248.7,241.0 249.1,240.0 249.4,238.7 249.7,235.4 250.0,239.3 250.3,233.7 250.6,238.5 251.0,235.5 251.3,238.8 251.6,241.0 251.9,232.6 252.2,239.0 252.6,242.1 252.9,236.4 253.2,234.9 253.5,237.2 253.9,239.4 254.2,239.3 254.5,236.8 254.9,236.9 255.2,236.2 255.5,236.6 255.9,239.0 256.2,239.6 256.5,238.7 256.9,237.3 257.2,241.8 257.5,240.6 257.9,239.5 258.2,237.4 258.5,238.8 258.8,239.4 259.2,238.2 259.5,234.5 259.8,238.1 260.2,239.1 260.5,238.6 260.8,238.2 261.1,236.7 261.5,240.6 261.8,240.0 262.1,239.2 262.4,240.2 262.8,237.4 263.1,236.2 263.4,241.5 263.7,240.0 264.0,238.8 264.3,240.6 264.6,241.7 264.9,240.9 265.3,241.0 265.6,243.6 265.9,242.9 266.2,238.9 266.6,239.6 266.9,241.9 267.2,239.1 267.6,244.4 267.9,238.0 268.2,237.2 268.5,236.9 268.8,240.4 269.1,240.9 269.4,241.8 269.7,240.8 270.0,241.2 270.3,240.3 270.6,239.7 270.9,240.0 271.3,237.9 271.6,240.7 271.9,239.9 272.2,240.4 272.6,241.4 272.9,238.6 273.3,241.2 273.6,239.2 273.9,240.9 274.2,239.0 274.5,240.3 274.9,238.8 275.2,243.6 275.5,239.5 275.8,242.3 276.0,239.7 276.3,237.1 276.6,239.7 277.0,242.3 277.3,239.8 277.7,233.5 278.0,236.1 278.3,234.1 278.7,241.3 279.0,241.1 279.3,240.1 279.7,237.5 280.0,236.7 280.3,236.3 280.7,237.0 281.0,238.4 281.3,236.9 281.7,236.9 282.0,230.7 282.3,232.5 282.7,236.7 283.0,231.5 283.4,235.1 283.7,233.1 284.0,234.4 284.4,239.5 284.7,234.9 285.0,238.7 285.3,235.6 285.7,234.7 286.0,235.4 286.3,235.2 286.6,236.1 286.9,237.0 287.2,236.7 287.6,234.7 287.9,231.1 288.2,232.5 288.5,233.9 288.8,236.0 289.1,237.6 289.4,231.3 289.7,236.6 290.1,234.1 290.5,234.3 290.9,232.4 291.2,233.1 291.6,236.4 292.0,234.9 292.4,232.7 292.7,234.1 293.1,232.9 293.4,234.6 293.7,236.2 294.1,237.4 294.4,232.9 294.7,234.2 295.0,234.6 295.3,238.1 295.7,234.6 296.0,236.2 296.3,231.8 296.6,237.7 296.9,233.4 297.2,236.6 297.5,240.9 297.9,238.4 298.2,238.9 298.5,238.2 298.9,240.2 299.2,238.5 299.4,242.6 299.7,238.6 300.0,237.0 300.3,240.3 300.7,239.3 301.0,236.5 301.3,236.5 301.6,239.2 301.9,237.9 302.2,240.2 302.5,238.9 302.8,238.7 303.1,241.5 303.4,235.5 303.7,237.1 304.0,239.4 304.3,239.0 304.6,239.3 304.8,239.0 305.1,240.4 305.4,241.4 305.7,239.5 306.0,237.7 306.3,239.5 306.6,243.5 306.9,242.0 307.2,238.3 307.5,239.4 307.9,240.1 308.2,243.0 308.5,239.4 308.8,240.6 309.1,242.6 309.4,241.4 309.7,243.0 310.0,240.8 310.3,240.7 310.6,243.0 310.9,242.5 311.2,242.7 311.6,243.4 311.9,244.9 312.2,241.0 312.5,245.8 312.8,243.9 313.2,240.8 313.5,239.1 313.8,245.7 314.1,244.3 314.4,242.8 314.7,242.6 315.0,241.1 315.3,245.1 315.6,243.1 315.9,239.3 316.2,239.6 316.5,237.3 316.8,242.7 317.1,239.0 317.5,239.6 317.8,238.9 318.1,244.0 318.4,243.3 318.7,242.3 319.0,246.2 319.3,242.2 319.7,240.3 320.0,243.2 320.3,245.6 320.6,242.9 320.9,244.2 321.3,245.2 321.6,242.5 321.9,244.8 322.2,242.0 322.5,241.4 322.9,240.3 323.2,241.5 323.5,244.4 323.8,243.7 324.1,242.5 324.4,241.9 324.7,244.5 325.1,243.9 325.4,245.2 325.7,246.6 326.0,242.2 326.3,242.0 326.6,242.8 327.0,245.8 327.3,242.7 327.6,243.3 327.9,244.7 328.2,243.8 328.6,240.9 328.9,246.1 329.2,243.3 329.5,246.1 329.8,244.0 330.2,238.5 330.5,243.1 330.8,244.5 331.1,240.9 331.4,243.8 331.7,242.7 332.1,243.3 332.4,244.7 332.7,249.7 333.0,241.3 333.3,246.0 333.6,243.8 333.9,243.7 334.2,242.3 334.5,245.2 334.8,247.5 335.1,244.0 335.4,244.7 335.7,240.1 336.0,244.3 336.3,241.0 336.7,241.2 337.0,247.3 337.3,245.3 337.6,245.3 337.9,243.7 338.3,245.6 338.6,245.5 338.9,241.5 339.2,246.1 339.5,246.8 339.9,240.6 340.2,241.7 340.5,246.9 340.8,243.7 341.1,239.8 341.5,243.6 341.8,241.2 342.1,245.3 342.4,243.6 342.7,246.4 343.0,245.6 343.4,244.0 343.7,246.7 344.0,242.0 344.3,247.1 344.6,244.7 345.0,243.1 345.3,242.2 345.6,244.8 345.9,244.1 346.2,242.1 346.5,245.3 346.9,246.3 347.2,243.5 347.5,244.3 347.8,247.7 348.1,240.4 348.4,246.4 348.7,245.2 349.0,243.0 349.3,245.2 349.6,243.8 350.0,241.3 350.3,244.0 350.6,241.7 350.9,245.9 351.2,244.5 351.5,243.8 351.8,242.3 352.1,245.0 352.4,249.0 352.8,244.6 353.1,244.2 353.4,245.0 353.7,240.5 354.1,246.6 354.4,241.5 354.8,243.2 355.1,245.7 355.5,244.4 355.8,243.3 356.1,245.7 356.4,242.7 356.8,241.4 357.1,243.8 357.4,244.9 357.7,243.2 358.0,245.2 358.4,240.9 358.7,244.6 359.0,243.9 359.3,244.5 359.7,246.4 360.0,239.8 360.3,243.7 360.6,242.2 360.9,241.0 361.2,244.2 361.5,241.6 361.8,242.9 362.2,246.7 362.5,238.9 362.8,244.9 363.2,243.5 363.6,242.5 363.9,243.2 364.3,242.5 364.7,243.8 365.0,240.2 365.4,246.6 365.8,241.2 366.2,241.3 366.5,241.5 366.8,244.9 367.1,244.6 367.5,245.1 367.8,243.9 368.1,244.2 368.4,242.8 368.7,238.5 369.0,241.7 369.4,244.4 369.7,239.5 370.0,239.7 370.3,244.2 370.7,243.2 371.0,239.8 371.3,242.8 371.6,245.5 371.9,242.3 372.2,243.6 372.5,242.0 372.8,245.5 373.1,243.0 373.4,244.4 373.7,243.6 374.1,240.0 374.4,243.9 374.7,244.3 375.0,245.5 375.3,244.8 375.6,240.8 375.9,242.7 376.3,243.8 376.6,242.1 376.9,245.7 377.2,244.1 377.5,245.6 377.8,244.7 378.1,243.0 378.4,246.8 378.7,243.8 379.1,242.4 379.4,241.6 379.7,245.8 380.0,246.8 380.3,246.1 380.6,245.6 380.9,245.3 381.2,242.1 381.4,241.0 381.7,242.5 382.0,243.5 382.3,247.2 382.6,247.6 382.9,240.1 383.2,243.1 383.5,246.7 383.8,243.6 384.1,245.1 384.4,246.2 384.7,247.0 385.0,246.5 385.3,247.9 385.6,249.5 385.9,245.5 386.3,243.9 386.6,243.9 386.9,246.2 387.2,248.0 387.5,238.3 387.9,246.2 388.2,246.6 388.5,242.8 388.8,245.2 389.2,246.1 389.5,249.6 389.8,246.1 390.1,251.2 390.4,250.4 390.7,245.0 391.0,245.0 391.3,248.3 391.6,249.1 391.8,245.5 392.1,248.8 392.5,244.2 392.8,245.0 393.1,249.6 393.5,243.6 393.8,246.2 394.1,247.6 394.5,247.4 394.8,248.5 395.1,247.1 395.5,249.7 395.8,246.8 396.1,245.3 396.4,247.8 396.8,247.3 397.1,245.9 397.4,245.8 397.8,246.8 398.1,247.8 398.5,249.2 398.8,247.8 399.2,248.9 399.5,245.5 399.8,246.3 400.1,243.7 400.4,248.6 400.8,252.5 401.1,248.3 401.4,249.5 401.8,245.8 402.1,247.2 402.5,249.6 402.9,249.3 403.2,248.6 403.5,247.1 403.9,246.7 404.2,248.5 404.6,244.7 404.9,248.2 405.3,247.3 405.6,247.4 406.0,250.6 406.3,253.0 406.6,250.5 406.9,248.6 407.2,250.5 407.5,245.7 407.8,250.2 408.1,252.2 408.4,245.3 408.7,251.7 409.0,245.8 409.4,249.2 409.7,244.8 410.0,256.3 410.3,245.9 410.6,246.8 410.9,252.4 411.2,250.5 411.5,246.2 411.8,247.8 412.1,245.1 412.5,249.0 412.8,250.5 413.1,252.1 413.4,248.7 413.8,250.7 414.1,248.5 414.4,251.9 414.7,246.8 415.0,248.2 415.3,246.6 415.6,252.3 415.9,253.9 416.2,246.4 416.6,249.2 416.9,250.1 417.2,250.6 417.5,248.9 417.8,242.3 418.1,247.5 418.4,249.1 418.7,248.3 419.0,249.1 419.2,248.2 419.6,252.1 419.9,242.8 420.2,248.7 420.6,247.9 420.9,249.9 421.2,248.7 421.5,250.3 421.9,247.2 422.2,252.4 422.6,250.4 422.9,253.8 423.2,250.0 423.6,252.4 423.9,250.7 424.3,246.2 424.6,249.9 425.0,252.0 425.3,249.1 425.6,248.8 426.0,251.8 426.3,254.4 426.6,251.4" fill="none" stroke="#ff1010" stroke-width="1.15" stroke-linejoin="miter"/></g><g clip-path="url(#cb)"><path d="M519.0,170.3 520.2,172.0 521.3,170.5 522.5,172.6 523.7,169.6 524.8,165.7 526.0,165.0 527.1,167.1 528.2,173.2 529.3,171.3 530.4,166.2 531.5,169.3 532.6,165.1 533.7,174.5 534.8,165.8 535.8,162.4 536.9,168.0 537.9,164.5 539.0,163.3 540.1,164.3 541.2,162.3 542.3,170.0 543.4,162.6 544.5,161.4 545.1,161.3 545.7,161.0 546.2,158.3 546.8,158.1 547.4,155.8 548.0,155.7 548.4,155.4 548.9,148.4 549.3,147.0 549.7,147.2 550.1,150.1 550.6,149.5 551.0,149.2 551.4,146.5 551.9,145.9 552.3,141.7 552.8,143.6 553.2,143.9 553.7,143.5 554.1,140.6 554.6,137.9 555.0,137.4 555.5,138.0 555.8,134.7 556.0,134.6 556.3,132.3 556.6,131.5 556.9,131.0 557.1,131.7 557.4,135.4 557.7,127.8 558.0,127.2 558.2,129.5 558.5,123.1 558.7,123.9 559.0,117.0 559.2,123.2 559.4,118.9 559.6,117.6 559.9,119.9 560.1,121.0 560.3,116.5 560.5,114.7 560.8,115.8 561.0,114.2 561.2,112.6 561.4,111.5 561.7,109.5 561.9,107.9 562.1,106.1 562.3,105.8 562.6,104.7 562.8,105.9 563.1,106.1 563.4,101.5 563.6,106.0 563.9,101.0 564.2,96.7 564.5,97.4 564.7,101.7 565.0,94.7 565.3,94.1 565.6,93.6 565.8,91.8 566.1,91.3 566.4,89.2 566.7,94.2 566.9,87.7 567.2,85.2 567.5,88.8 567.8,84.8 568.1,76.3 568.3,80.8 568.6,80.8 568.9,81.9 569.2,78.7 569.4,76.1 569.7,75.2 570.0,74.5 570.3,75.1 570.5,68.1 570.8,69.2 571.1,71.2 571.4,66.1 571.6,70.1 571.9,67.7 572.2,63.6 572.5,66.4 572.7,63.8 573.0,61.4 573.3,61.6 573.5,61.2 573.8,60.2 574.1,60.8 574.4,61.3 574.6,55.0 574.9,58.4 575.2,52.6 575.4,53.6 575.7,51.3 576.1,51.0 576.4,50.9 576.8,46.2 577.1,48.6 577.5,48.0 577.8,44.5 578.2,44.7 578.5,48.3 578.9,43.9 579.2,40.1 579.6,45.1 580.1,41.8 580.5,38.3 581.0,38.1 581.4,39.4 581.8,36.0 582.3,34.8 582.7,31.8 583.0,32.5 583.3,33.0 583.6,32.5 583.9,25.4 584.3,28.8 584.6,26.0 584.9,30.3 585.2,23.7 585.5,24.1 585.9,22.8 586.4,26.2 586.8,27.1 587.2,27.2 587.6,30.4 588.1,29.6 588.5,31.4 588.9,33.0 589.3,32.2 589.6,28.1 590.0,32.8 590.4,31.4 590.8,40.5 591.1,40.9 591.3,40.3 591.6,43.2 591.9,37.8 592.1,42.1 592.4,44.8 592.7,46.2 593.0,47.2 593.2,47.5 593.5,45.2 593.8,50.8 594.0,51.9 594.3,52.3 594.7,54.3 595.1,55.6 595.5,57.8 595.9,57.4 596.2,56.5 596.6,59.6 597.0,61.2 597.4,65.1 597.8,60.7 598.0,65.0 598.3,62.1 598.5,64.0 598.8,64.4 599.0,67.0 599.2,67.5 599.5,70.5 599.7,71.4 600.0,78.4 600.2,72.0 600.7,74.3 601.2,73.9 601.7,74.7 602.2,76.8 602.8,79.4 603.3,81.3 603.8,75.2 604.3,80.2 604.8,83.3 605.3,87.0 605.8,78.8 606.4,86.9 606.9,88.1 607.4,87.0 607.9,89.8 608.5,92.4 609.0,90.6 609.5,94.5 610.4,94.6 611.4,92.3 612.3,93.3 613.3,95.0 614.2,96.0 615.4,95.7 616.5,89.4 617.7,93.3 618.8,91.9 620.0,93.9 620.5,98.5 621.1,96.8 621.7,96.6 622.2,100.1 622.6,94.5 623.1,99.8 623.5,94.4 623.9,95.2 624.4,92.4 624.8,92.3 625.3,89.3 625.7,88.5 626.1,89.1 626.6,85.4 627.0,84.7 628.1,85.8 629.3,82.1 630.4,83.7 631.6,85.5 632.7,83.8 633.9,85.6 635.0,83.7 635.9,83.9 636.7,79.2 637.6,79.2 638.5,81.0 639.3,79.1 640.2,78.0 641.0,78.6 641.9,74.1 642.8,70.5 643.6,73.0 644.5,76.1 645.3,75.7 646.2,74.8 647.0,77.5 647.9,77.2 648.7,80.6 649.5,78.8 650.4,79.4 651.2,81.4 652.0,82.4 652.9,84.6 653.7,83.7 654.6,81.0 655.4,83.8 656.3,85.8 657.2,86.1 658.1,88.9 659.0,86.5 659.9,85.7 660.8,89.1 661.8,92.2 662.7,90.4 663.6,97.1 664.5,92.6 665.4,93.9 666.3,93.3 667.2,95.0 668.1,95.8 669.0,98.8 669.9,98.7 670.8,93.9 671.7,98.7 672.6,100.7 673.5,99.6 674.5,101.1 675.4,101.1 676.3,101.9 677.2,106.9 678.1,105.2 679.0,103.8 679.9,104.4 680.8,105.1 681.7,105.4 682.5,106.3 683.4,107.9 684.2,108.4 685.1,112.3 685.9,111.0 686.8,107.2 687.6,113.2 688.5,110.6 689.3,117.5 690.2,116.8 691.0,111.3 691.9,116.6 692.7,115.7 693.6,118.0 694.4,117.6 695.3,123.6 696.2,116.8 697.0,119.7 697.9,117.8 698.7,122.4 699.6,121.4 700.4,123.5 701.3,121.5 702.1,121.9 703.0,125.2 703.8,124.1 704.7,125.2 705.5,131.2 706.4,129.0 707.2,128.1 708.1,127.1 708.9,129.4 709.8,129.0 710.8,132.6 711.9,131.5 712.9,130.9 713.9,132.8 715.0,131.9 716.0,138.4 717.0,139.2 718.1,132.7 719.1,133.4 720.2,136.0 721.2,134.0 722.2,142.9 723.3,135.6 724.3,135.4 725.3,136.4 726.4,136.8 727.4,137.1 728.4,137.4 729.5,137.9 730.5,135.4 731.5,138.8 732.6,139.5 733.6,139.4 734.7,140.2 735.7,139.1 736.7,143.0 737.8,141.4 738.8,141.2 739.4,142.9 740.1,135.2 740.7,137.5 741.4,138.5 742.0,132.1 742.6,137.2 743.3,134.4 743.9,140.6 744.6,130.8 745.2,133.1 745.9,130.5 746.5,129.8 747.1,129.6 747.8,127.7 748.4,128.1 749.1,124.6 749.7,132.9 750.2,127.8 750.8,122.8 751.3,116.6 751.9,120.7 752.4,120.6 753.0,118.0 753.5,114.9 754.1,115.9 754.6,116.0 755.2,115.6 755.7,113.7 756.2,115.8 756.8,113.1 757.3,111.1 757.9,112.4 758.4,110.5 759.0,108.6 759.5,109.2 760.1,106.4 760.6,105.6 761.3,104.7 762.0,102.8 762.7,101.4 763.4,100.8 764.1,100.7 764.8,100.5 765.5,103.4 766.2,94.1 766.9,98.6 767.6,97.5 768.3,95.5 769.0,95.4 769.6,91.9 770.2,92.9 770.8,90.9 771.4,84.7 772.0,89.9 772.6,89.9 773.2,88.0 773.9,85.0 774.5,79.2 775.1,84.4 775.7,83.4 776.3,82.3 776.9,81.2 777.5,82.8 778.1,80.2 779.1,74.7 780.1,81.1 781.1,83.3 782.1,80.4 783.1,83.2 784.0,82.3 785.0,83.9 786.0,84.1 787.0,86.0 788.0,85.1 789.0,89.1 789.8,81.2 790.6,87.7 791.3,90.6 792.1,89.2 792.9,90.3 793.7,85.0 794.5,88.5 795.2,92.4 796.0,91.8 796.8,94.5 797.6,94.6 798.3,88.6 799.1,94.6 799.9,96.0 800.9,96.4 801.9,96.1 802.8,97.7 803.8,95.8 804.8,99.8 805.8,94.4 806.7,99.6 807.7,101.6 808.7,104.4 809.7,102.0 810.6,102.0 811.6,102.9 812.6,104.5 813.6,101.7 814.6,104.9 815.5,107.6 816.5,103.1 817.5,98.0 818.5,102.7 819.4,102.9 820.4,99.7 821.4,103.4 822.4,97.9 823.3,98.6 824.3,97.1 825.3,96.0 826.3,94.5 827.3,94.7 828.3,96.1 829.3,93.6 830.3,92.1 831.2,87.8 832.2,93.1 833.2,90.0 834.2,90.2 835.2,89.2 836.2,92.3 837.4,88.9 838.6,88.7 839.8,89.2 841.0,87.7 842.2,88.3 843.4,88.6 844.6,95.1 845.8,87.9 847.0,88.4 848.1,87.7 849.2,91.1 850.4,84.2 851.5,87.2 852.6,82.3 853.7,91.6 854.9,89.5 856.0,88.0 857.1,90.1 858.2,96.0 859.4,88.1 860.5,90.3 861.6,93.2 862.5,87.6 863.4,95.2 864.3,91.3 865.2,92.6 866.1,85.2 867.0,93.4 867.9,95.9 868.8,95.2 869.7,94.9 870.6,94.6 871.5,97.5 872.4,99.6 873.3,97.2 874.2,100.2 875.2,99.1 876.2,98.0 877.3,98.5 878.3,101.2 879.3,101.7 880.3,100.8 881.4,102.6 882.4,104.6 883.4,104.2 884.4,110.0 885.4,104.8 886.5,103.6 887.5,105.0 888.5,106.8 889.4,107.6 890.4,112.9 891.3,108.5 892.3,108.8 893.2,113.6 894.2,106.9 895.1,111.7 896.1,112.3 897.0,112.3 898.0,111.7 898.9,110.3 899.9,113.9 900.8,112.5 901.8,113.9 902.7,113.0 903.7,115.1 904.7,110.8 905.8,117.5 906.8,118.6 907.8,116.5 908.8,117.6 909.9,119.9 910.9,123.0 911.9,121.9 912.9,121.9 913.9,119.6 915.0,122.9 916.0,124.6 917.0,121.8 918.1,122.7 919.2,122.2 920.3,128.1 921.4,120.9 922.5,124.4 923.6,122.2 924.6,124.7 925.7,124.4 926.8,123.7 927.9,127.2 929.0,124.8 930.1,125.1 931.2,130.9 932.4,126.9 933.6,126.4 934.8,126.1 936.0,124.9 937.2,129.2 938.4,127.1 939.5,127.9 940.7,126.5 941.9,128.1 943.1,126.5 944.3,118.7 945.5,128.7 946.5,125.6 947.6,128.6 948.6,128.0 949.6,127.3 950.7,128.6 951.7,127.8 952.8,130.6 953.8,130.8 954.8,131.1 955.9,130.6 956.9,133.4 957.7,130.9 958.5,128.9 959.4,130.2 960.2,132.5 961.0,126.2" fill="none" stroke="#2341ee" stroke-width="2.7" stroke-linejoin="round" stroke-linecap="round"/><path d="M519.0,219.8 520.1,221.0 521.2,218.7 522.3,218.9 523.4,218.2 524.6,219.2 525.7,218.0 526.8,220.1 527.9,224.3 529.0,219.0 530.2,216.7 531.3,217.3 532.5,217.3 533.6,220.8 534.8,220.3 536.0,224.6 537.1,223.6 538.3,220.6 539.4,220.9 540.5,222.7 541.6,217.1 542.8,220.0 543.9,220.0 545.0,214.5 546.2,220.4 547.4,219.2 548.6,219.8 549.9,222.3 551.1,220.3 552.3,220.2 552.9,218.2 553.6,217.4 554.2,218.5 554.9,212.4 555.5,216.8 556.3,215.7 557.1,213.3 557.9,220.2 558.6,207.6 559.4,217.3 560.2,211.9 560.7,212.4 561.3,205.4 561.8,207.0 562.3,205.6 562.9,204.3 563.4,205.6 563.9,206.6 564.4,203.7 565.0,200.3 565.5,202.8 566.0,197.0 566.6,200.6 567.1,197.6 567.7,194.9 568.2,199.6 568.8,192.5 569.3,192.2 569.9,193.8 570.4,191.3 571.0,191.8 571.5,190.6 571.9,188.7 572.3,187.7 572.7,180.8 573.1,184.4 573.5,184.8 574.0,185.1 574.4,180.0 574.8,181.5 575.2,180.0 575.6,178.7 576.0,183.5 576.4,176.7 576.7,174.9 577.1,166.3 577.4,174.9 577.8,173.6 578.1,171.0 578.5,167.2 579.2,170.5 579.9,169.5 580.6,167.6 581.3,166.7 582.0,166.0 583.1,164.2 584.2,164.2 585.4,162.2 586.5,161.8 587.6,161.5 588.6,162.6 589.7,167.5 590.8,164.3 591.5,157.4 592.2,165.0 593.0,165.3 593.7,161.4 594.4,167.5 595.1,166.5 595.9,170.4 596.6,170.2 597.4,171.5 598.2,171.5 598.9,167.5 599.7,173.5 600.5,176.8 601.3,184.8 602.0,178.8 602.8,178.3 603.6,179.7 604.3,178.2 604.9,179.9 605.6,182.3 606.2,181.6 606.9,183.7 607.5,184.7 608.2,187.9 609.4,186.7 610.6,184.8 611.7,187.6 612.9,188.3 614.1,187.4 615.2,187.8 616.4,186.6 617.6,183.4 618.4,191.9 619.3,186.0 620.1,184.1 621.0,184.0 621.8,183.3 622.7,182.8 623.5,180.7 624.4,182.0 625.2,181.0 626.1,179.5 626.9,177.9 628.1,176.6 629.2,177.5 630.4,176.3 631.6,177.9 632.7,178.9 633.9,178.8 635.1,177.6 636.2,176.9 637.4,177.7 638.5,178.1 639.7,179.4 640.9,180.1 642.0,179.5 643.2,180.0 644.5,178.2 645.7,178.0 647.0,185.1 648.2,182.3 649.5,180.4 650.7,183.0 651.8,184.9 652.9,187.8 654.1,181.3 655.2,185.0 656.3,182.1 657.4,183.5 658.5,185.1 659.6,192.8 660.8,185.6 661.9,185.9 663.0,185.3 664.0,186.9 665.1,186.8 666.1,187.3 667.2,187.8 668.2,191.2 669.3,196.5 670.4,188.1 671.4,189.9 672.5,187.8 673.5,188.8 674.6,190.1 675.6,189.8 676.6,189.0 677.5,191.4 678.5,192.1 679.4,192.0 680.4,194.1 681.3,195.5 682.3,192.9 683.2,193.5 684.2,194.9 685.1,196.1 686.1,195.5 687.0,199.7 688.0,196.4 689.1,193.9 690.2,195.7 691.3,200.0 692.5,200.8 693.6,205.5 694.7,199.3 695.8,198.3 696.9,201.9 698.0,206.0 699.2,200.5 700.3,203.7 701.4,195.4 702.5,203.6 703.6,201.1 704.7,201.8 705.8,203.4 707.0,203.8 708.1,204.8 709.2,203.0 710.3,209.8 711.4,205.7 712.5,210.4 713.7,203.9 714.8,207.6 715.9,205.7 717.0,205.7 718.0,206.8 719.1,201.4 720.1,208.0 721.1,206.8 722.1,208.4 723.2,207.4 724.2,207.7 725.2,208.2 726.3,201.8 727.3,210.3 728.3,210.7 729.4,207.9 730.4,210.6 731.5,214.1 732.5,213.0 733.5,212.6 734.6,212.1 735.6,213.2 736.8,212.7 737.9,213.7 739.1,211.5 740.2,211.7 741.4,212.0 742.5,211.3 743.7,211.9 744.8,211.4 746.0,211.9 747.0,215.1 748.1,211.6 749.1,211.4 750.1,209.2 751.1,210.5 752.2,212.3 753.2,207.6 754.2,208.3 755.3,203.9 756.3,205.0 757.0,204.7 757.8,204.9 758.5,205.2 759.2,201.0 759.9,200.1 760.7,201.1 761.4,195.1 762.1,200.0 762.9,199.4 763.6,198.9 764.3,196.2 765.1,196.8 765.8,193.6 766.5,192.3 767.2,193.0 768.0,190.2 768.7,197.8 769.8,191.1 770.8,186.4 771.9,189.8 773.0,192.6 774.0,190.5 775.1,186.8 776.1,189.3 777.2,190.6 778.3,189.3 779.3,193.6 780.4,181.7 781.5,191.4 782.5,187.6 783.6,186.6 784.6,186.7 785.7,188.1 786.7,187.2 787.6,189.0 788.6,189.4 789.6,190.6 790.6,190.7 791.5,190.8 792.5,196.6 793.5,192.7 794.5,194.0 795.4,188.3 796.4,191.5 797.5,191.9 798.7,191.4 799.8,194.3 801.0,199.7 802.1,191.5 803.3,193.9 804.4,199.5 805.6,193.1 806.7,195.0 807.9,196.7 809.0,197.0 810.2,196.6 811.3,195.9 812.5,193.6 813.6,190.2 814.7,202.1 815.7,193.8 816.8,194.9 817.9,194.7 819.0,194.0 820.0,197.5 821.1,193.4 822.2,191.8 823.2,193.7 824.3,192.0 825.4,189.5 826.4,192.7 827.5,193.3 828.6,196.2 829.6,190.8 830.7,190.3 831.8,190.9 832.9,190.8 833.9,190.5 835.0,188.8 836.2,191.6 837.3,190.8 838.5,188.9 839.6,190.5 840.8,190.9 841.9,191.1 843.1,189.7 844.2,192.7 845.4,186.6 846.5,188.5 847.7,190.7 848.8,192.2 850.0,192.0 851.2,194.6 852.3,191.5 853.5,190.3 854.6,189.8 855.8,191.5 856.9,192.6 858.1,191.4 859.2,190.8 860.4,188.0 861.5,190.8 862.7,191.6 863.8,189.9 865.0,191.4 866.1,190.9 867.1,190.4 868.2,192.5 869.3,191.8 870.4,193.6 871.4,191.3 872.5,194.1 873.6,194.0 874.6,194.8 875.7,196.5 876.8,194.4 877.9,197.5 878.9,194.5 880.0,196.7 881.1,199.3 882.2,189.8 883.2,197.3 884.3,197.4 885.4,192.9 886.5,198.7 887.5,194.8 888.6,197.7 889.7,201.1 890.7,201.8 891.8,199.4 892.9,200.8 894.0,201.3 895.0,204.7 896.1,196.2 897.2,201.5 898.2,202.3 899.3,202.2 900.4,203.3 901.4,203.8 902.5,199.1 903.6,204.5 904.6,205.2 905.7,203.0 906.8,203.9 907.9,205.9 908.9,205.2 910.0,206.7 911.1,209.2 912.3,207.8 913.4,208.7 914.5,206.1 915.6,206.3 916.8,209.3 917.9,205.3 919.0,206.9 920.1,209.5 921.3,207.0 922.4,206.5 923.5,208.2 924.6,209.8 925.8,209.6 926.9,207.6 928.0,209.1 929.1,210.2 930.3,207.8 931.4,207.0 932.5,210.7 933.7,209.5 934.8,209.7 936.0,212.5 937.1,209.4 938.3,211.0 939.4,212.8 940.6,213.5 941.7,203.2 942.9,210.1 944.0,203.9 945.2,210.9 946.3,213.3 947.5,209.4 948.6,211.7 949.7,214.9 950.9,213.6 952.0,211.3 953.1,214.6 954.2,210.9 955.4,212.1 956.5,207.5 957.6,213.3 958.7,212.2 959.9,212.7 961.0,210.3" fill="none" stroke="#ff1010" stroke-width="2.7" stroke-linejoin="round" stroke-linecap="round"/><path d="M519.0,315.9 519.8,315.8 520.5,314.6 521.3,317.9 522.0,318.6 522.8,318.8 523.6,317.9 524.4,316.3 525.2,317.0 526.0,315.3 527.1,316.3 528.2,316.5 529.4,316.0 530.5,313.1 531.7,312.7 532.8,314.3 534.0,316.6 534.9,313.1 535.7,315.7 536.6,312.0 537.4,311.5 538.3,311.8 538.8,308.4 539.2,307.9 539.7,307.8 540.2,305.6 540.6,305.9 541.1,302.9 541.6,303.4 542.1,300.6 542.5,299.2 543.0,300.1 543.2,299.0 543.5,297.3 543.7,296.2 543.9,295.6 544.2,294.5 544.4,292.1 544.6,292.2 544.8,292.0 545.1,290.2 545.3,289.3 545.5,287.9 545.8,287.1 546.0,285.6 547.0,285.8 548.0,285.9 549.0,288.1 549.3,286.7 549.7,284.6 550.0,285.4 550.3,284.3 550.6,282.3 551.0,280.9 551.3,280.0 551.6,278.7 552.0,280.0 552.3,277.7 552.8,277.5 553.3,280.1 553.9,280.7 554.4,280.6 554.9,284.1 555.4,284.1 556.0,283.4 556.5,283.0 557.0,287.3 557.6,285.7 558.2,283.0 558.8,284.0 559.4,284.3 560.0,280.3 560.8,280.4 561.6,278.6 562.4,279.7 563.1,276.7 563.9,277.7 564.7,275.5 565.8,274.2 566.9,276.0 567.9,275.3 569.0,273.3 569.6,271.7 570.2,272.8 570.9,269.9 571.5,270.9 572.1,269.5 572.8,269.7 573.4,266.4 574.0,267.9 574.8,265.5 575.6,264.8 576.4,262.6 577.2,263.2 578.0,263.0 578.4,262.2 578.7,260.5 579.1,258.7 579.5,258.4 579.8,257.2 580.2,255.0 580.5,255.3 580.9,253.6 581.3,251.9 581.6,251.3 582.0,251.5 582.4,250.3 582.9,246.8 583.3,246.4 583.7,245.5 584.1,245.2 584.6,243.3 585.0,241.4 585.4,242.9 585.8,243.9 586.1,245.6 586.5,246.7 586.9,248.8 587.2,249.7 587.6,250.9 588.0,250.3 588.8,253.2 589.6,253.0 590.4,250.8 591.1,252.6 591.9,254.7 592.7,254.7 593.5,256.1 594.3,256.8 594.7,257.6 595.0,258.7 595.4,260.0 595.7,261.1 596.1,262.6 596.5,265.4 596.8,263.9 597.2,266.2 597.6,266.5 597.9,268.0 598.3,269.8 598.6,270.7 599.0,270.7 600.0,271.4 601.0,273.0 602.0,272.2 603.0,273.1 604.0,275.4 604.9,276.5 605.7,275.8 606.6,277.9 607.4,278.9 608.3,277.9 609.1,280.3 609.9,280.3 610.7,281.5 611.6,280.6 612.4,283.7 613.2,285.2 614.0,285.6 615.1,286.7 616.2,286.2 617.4,285.4 618.5,288.0 619.6,289.1 620.7,288.6 622.0,289.0 622.5,289.6 623.0,287.9 623.4,286.8 623.9,285.5 624.4,283.1 624.9,283.2 625.4,281.6 625.9,280.0 626.3,281.8 626.8,280.2 627.3,278.2 627.7,279.1 628.2,279.9 628.6,280.9 629.1,281.1 629.5,282.5 630.0,285.9 630.4,286.1 630.7,284.4 631.1,284.3 631.4,281.3 631.8,282.1 632.1,280.2 632.5,279.8 632.8,277.2 633.1,276.1 633.5,275.2 633.8,275.5 634.2,273.6 634.5,270.7 634.8,273.5 635.2,272.7 635.5,275.1 635.9,276.5 636.2,277.2 636.6,279.9 636.9,279.0 637.3,279.5 637.6,281.8 638.0,279.8 638.5,279.2 638.9,278.2 639.4,276.5 639.8,274.5 640.3,275.9 640.7,274.6 641.8,273.2 642.8,272.2 643.9,273.1 644.9,273.3 646.0,271.1 646.4,270.4 646.9,275.1 647.3,274.1 647.8,276.8 648.2,278.2 648.7,280.5 649.1,278.5 649.6,280.7 650.0,280.8 651.0,281.3 652.1,280.9 653.1,281.5 654.2,278.3 655.2,276.2 656.3,276.5 657.3,278.7 658.0,277.0 658.7,279.9 659.4,280.0 660.1,282.2 660.7,279.1 661.4,284.6 662.1,283.7 662.8,283.2 663.5,284.9 664.2,283.9 664.9,283.7 665.6,283.7 666.3,283.5 667.0,282.0 667.7,279.4 668.7,280.5 669.8,281.8 670.8,281.1 671.8,280.7 672.9,281.0 673.9,283.5 674.5,284.4 675.1,286.3 675.6,286.8 676.2,288.9 676.8,289.3 677.4,291.4 677.9,290.6 678.5,291.5 679.1,292.3 679.9,290.8 680.7,290.1 681.4,289.5 682.2,288.3 682.9,288.5 683.6,291.9 684.3,291.9 685.1,293.8 685.8,293.3 686.5,294.6 687.2,294.6 687.9,296.5 688.6,296.2 689.4,296.9 690.1,297.1 690.8,299.5 691.5,300.9 692.0,298.2 692.4,297.9 692.9,298.0 693.4,295.2 693.8,294.0 694.3,293.6 694.8,292.2 695.2,291.0 695.7,290.1 696.4,291.1 697.2,291.6 697.9,293.6 698.6,292.3 699.4,293.5 700.1,295.4 700.8,297.2 701.5,295.3 702.3,299.0 703.0,298.0 704.0,297.3 705.0,298.8 706.0,297.1 707.0,298.2 708.0,296.1 709.1,294.7 710.1,297.3 711.2,296.7 712.2,297.9 713.3,297.5 714.2,296.9 715.2,297.7 716.1,295.4 717.1,295.5 718.0,294.9 719.1,294.9 720.3,296.1 721.4,296.5 722.6,296.0 723.7,297.1 724.6,296.6 725.5,293.6 726.5,293.8 727.4,293.4 728.3,293.3 729.2,294.7 730.2,290.5 731.1,289.3 732.0,291.0 733.2,292.8 734.5,290.5 735.8,290.8 737.0,291.0 738.1,293.4 739.2,292.1 740.2,291.2 741.3,290.5 742.4,292.2 743.3,291.0 744.2,293.3 745.1,293.2 746.0,292.7 746.8,293.3 747.6,293.2 748.4,290.1 749.1,289.8 749.9,287.9 750.7,288.8 751.6,286.8 752.5,286.9 753.4,287.4 754.2,285.5 755.1,283.7 756.0,283.3 756.9,283.5 757.9,284.3 758.9,281.6 760.0,280.4 761.0,281.0 762.0,278.5 762.4,280.0 762.8,279.1 763.1,282.1 763.5,283.2 763.9,283.8 764.3,286.4 764.7,287.7 765.1,287.5 765.4,289.8 765.8,291.0 766.2,290.1 766.5,289.2 766.8,290.5 767.2,287.6 767.5,285.9 767.8,286.3 768.1,283.4 768.5,283.7 768.8,281.5 769.1,279.6 769.4,280.4 769.8,276.7 770.1,278.4 770.4,275.0 771.4,277.9 772.4,274.8 773.5,274.8 774.5,272.0 775.5,272.2 776.0,274.2 776.5,270.4 777.1,270.3 777.6,268.5 778.1,268.2 778.7,267.8 779.2,267.8 779.7,266.5 781.1,267.3 782.4,268.2 783.8,266.5 784.3,266.6 784.9,269.4 785.4,269.8 785.9,271.4 786.5,271.6 787.0,273.3 788.1,272.4 789.3,273.5 790.5,274.1 791.6,272.6 792.8,275.4 793.9,276.0 795.1,274.5 796.2,273.9 796.8,277.4 797.4,277.1 797.9,277.6 798.5,279.2 799.1,279.7 799.7,279.6 800.2,283.6 800.8,284.1 801.4,284.4 802.1,283.1 802.9,283.2 803.6,282.9 804.4,282.4 805.1,279.3 805.9,279.6 806.6,278.7 807.6,276.7 808.7,277.9 809.7,275.8 810.7,276.5 811.8,274.1 812.8,273.2 813.3,273.1 813.9,275.5 814.4,278.1 814.9,278.2 815.5,277.5 816.0,280.7 816.9,282.0 817.7,283.0 818.5,280.1 819.4,281.7 820.2,284.0 821.1,286.3 821.8,282.0 822.5,281.6 823.2,283.5 823.9,280.8 824.5,278.3 825.2,278.9 825.9,276.9 826.6,276.1 827.3,275.9 828.3,277.8 829.4,275.6 830.4,275.3 831.4,272.9 832.5,272.8 833.5,272.1 834.5,273.6 835.6,274.2 836.6,275.2 837.7,276.9 838.8,276.5 839.8,276.1 840.8,279.4 841.8,278.4 842.9,277.2 843.9,280.3 844.3,279.0 844.6,276.2 845.0,275.4 845.4,274.9 845.8,273.2 846.1,271.3 846.5,272.4 846.9,271.5 847.3,269.1 847.6,268.4 848.0,268.2 848.7,268.6 849.4,271.3 850.1,270.6 850.8,271.0 851.5,273.0 852.2,273.9 853.1,275.5 853.9,276.6 854.8,277.7 855.7,277.7 856.5,278.2 857.4,278.3 857.8,277.7 858.2,279.2 858.6,276.7 859.0,274.8 859.5,273.9 859.9,273.5 860.3,272.7 860.7,271.3 861.1,268.7 861.5,265.8 862.8,268.4 864.1,270.2 865.4,270.5 866.7,271.1 867.3,271.7 867.9,273.9 868.6,271.9 869.2,274.5 869.8,274.9 870.6,275.4 871.5,274.0 872.3,273.4 873.2,272.3 874.0,273.7 875.3,271.1 876.6,272.1 877.9,270.9 879.2,272.0 879.5,271.6 879.8,275.2 880.1,274.3 880.4,277.6 880.8,277.3 881.1,278.2 881.4,278.3 881.7,281.6 882.0,281.2 882.3,280.9 883.3,281.2 884.4,282.4 885.4,280.9 886.5,278.9 887.5,279.6 888.7,277.8 890.0,278.6 891.2,279.7 892.5,280.2 893.7,280.7 894.4,282.6 895.1,282.2 895.8,283.2 896.4,282.2 897.1,284.8 897.8,284.5 898.7,285.0 899.5,283.7 900.4,281.9 901.3,280.4 902.1,281.6 903.0,280.0 904.0,281.4 905.1,282.4 906.1,283.8 907.2,282.2 908.2,282.0 909.0,284.9 909.8,286.2 910.5,285.6 911.3,287.4 912.1,289.2 912.9,289.8 913.6,290.2 914.4,289.2 915.5,288.2 916.5,287.3 917.5,288.0 918.6,285.2 919.7,286.7 920.7,285.2 921.7,289.4 922.8,286.8 923.8,287.8 924.8,289.9 925.9,290.2 926.9,290.8 927.8,288.9 928.7,289.3 929.6,288.2 930.4,288.4 931.3,286.8 932.2,285.8 933.1,285.0 934.1,286.3 935.2,285.8 936.2,286.7 937.2,287.1 938.3,288.7 939.3,288.7 940.2,287.5 941.1,290.6 942.1,291.8 943.0,293.1 943.9,291.7 944.8,293.8 945.8,294.0 946.7,292.8 947.6,295.5 948.0,293.5 948.4,293.5 948.7,291.5 949.1,291.2 949.5,288.2 949.9,289.7 950.3,287.2 950.7,287.7 951.0,284.7 951.4,285.2 951.8,286.2 952.6,284.2 953.4,285.8 954.3,285.9 955.1,290.0 955.9,285.8 957.2,288.3 958.5,288.2 959.7,289.3 961.0,287.4" fill="none" stroke="#000" stroke-width="2.8" stroke-linejoin="round" stroke-linecap="round"/></g><rect x="34.8" y="4.5" width="440.8" height="326.2" fill="none" stroke="#000" stroke-width="2.6"/><rect x="518.5" y="3.4" width="443.0" height="330.2" fill="none" stroke="#000" stroke-width="2.6"/><path d="M34.8,330.7V338.0 M59.3,330.7V335.0 M83.8,330.7V338.0 M108.3,330.7V335.0 M132.8,330.7V338.0 M157.2,330.7V335.0 M181.7,330.7V338.0 M206.2,330.7V335.0 M230.7,330.7V338.0 M255.2,330.7V335.0 M279.7,330.7V338.0 M304.2,330.7V335.0 M328.7,330.7V338.0 M353.2,330.7V335.0 M377.6,330.7V338.0 M402.1,330.7V335.0 M426.6,330.7V338.0 M451.1,330.7V335.0 M475.6,330.7V338.0 M518.5,333.6V340.8 M573.9,333.6V337.8 M629.2,333.6V340.8 M684.6,333.6V337.8 M740.0,333.6V340.8 M795.4,333.6V337.8 M850.8,333.6V340.8 M906.1,333.6V337.8 M961.5,333.6V340.8" stroke="#000" stroke-width="2.4" fill="none"/><text x="34.8" y="357" text-anchor="middle" font-size="20.3" font-weight="bold">10</text><text x="83.8" y="357" text-anchor="middle" font-size="20.3" font-weight="bold">20</text><text x="132.8" y="357" text-anchor="middle" font-size="20.3" font-weight="bold">30</text><text x="181.7" y="357" text-anchor="middle" font-size="20.3" font-weight="bold">40</text><text x="230.7" y="357" text-anchor="middle" font-size="20.3" font-weight="bold">50</text><text x="279.7" y="357" text-anchor="middle" font-size="20.3" font-weight="bold">60</text><text x="328.7" y="357" text-anchor="middle" font-size="20.3" font-weight="bold">70</text><text x="377.6" y="357" text-anchor="middle" font-size="20.3" font-weight="bold">80</text><text x="426.6" y="357" text-anchor="middle" font-size="20.3" font-weight="bold">90</text><text x="475.6" y="357" text-anchor="middle" font-size="20.3" font-weight="bold">100</text><text x="518.5" y="358.7" text-anchor="middle" font-size="20" font-weight="bold">850</text><text x="629.2" y="358.7" text-anchor="middle" font-size="20" font-weight="bold">860</text><text x="740.0" y="358.7" text-anchor="middle" font-size="20" font-weight="bold">870</text><text x="850.8" y="358.7" text-anchor="middle" font-size="20" font-weight="bold">880</text><text x="961.5" y="358.7" text-anchor="middle" font-size="20" font-weight="bold">890</text><text x="287.5" y="379" text-anchor="middle" font-size="19.2" font-weight="bold">2θ (degree)</text><text x="758.6" y="373.2" text-anchor="middle" font-size="19.5" font-weight="bold">Binding Energy (eV)</text><text transform="translate(17.6,175.4) rotate(-90)" text-anchor="middle" font-size="20.5" font-weight="bold">Intensity (a.u.)</text><text transform="translate(505.7,149.4) rotate(-90)" text-anchor="middle" font-size="20.2" font-weight="bold">Intensity (a.u.)</text><text x="46.2" y="38.8" font-size="31" letter-spacing="1.2">(a)</text><text x="534.8" y="38.8" font-size="31" letter-spacing="1.2">(b)</text><text x="157.8" y="83.6" font-size="16.5" font-weight="bold">#</text><text x="174.6" y="83.6" font-size="19.2" font-weight="bold">Ni</text><path d="M164.3,104.9 L169,110.8 L164.3,116.7 L159.6,110.8Z" fill="#000"/><text x="172" y="115.3" font-size="19.7" font-weight="bold">NiO</text><path d="M165.5,201.7 L170.3,207.5 L165.5,213.3 L160.7,207.5Z" fill="#000"/><path d="M197.4,183.7 L202.2,189.5 L197.4,195.3 L192.6,189.5Z" fill="#000"/><text x="209" y="255.9" font-size="17.5" font-weight="bold">#</text><text x="209.5" y="295.2" font-size="17.5" font-weight="bold">#</text><path d="M248,85.5H284.5" stroke="#000" stroke-width="1.1"/><path d="M248,110.5H284.5" stroke="#ff1010" stroke-width="1.1"/><path d="M248,135.5H284.5" stroke="#2341ee" stroke-width="1.1"/><text x="290" y="90.3" font-size="20.2" font-weight="bold">Ni@CNTs</text><text x="290" y="115.5" font-size="20.2" font-weight="bold" fill="#ff1010">NiO@CNTs</text><text x="290" y="140.4" font-size="20.2" font-weight="bold" fill="#2341ee">NiO/Ni@CNTs</text><text x="595" y="41" font-size="19.3" font-weight="bold">Ni-O</text><text x="709.5" y="61.6" font-size="19.3" font-weight="bold">Ni 2p</text><text x="959.5" y="69.9" text-anchor="end" font-size="20" font-weight="bold" fill="#2341ee">NiO/Ni@CNTs</text><text x="957.5" y="175.5" text-anchor="end" font-size="20.2" font-weight="bold" fill="#ff1010">NiO@CNTs</text><text x="946.3" y="260.5" text-anchor="end" font-size="19.7" font-weight="bold">Ni@CNTs</text><text x="533" y="257.8" font-size="19.5" font-weight="bold">Ni(0)</text></svg></body></html>
